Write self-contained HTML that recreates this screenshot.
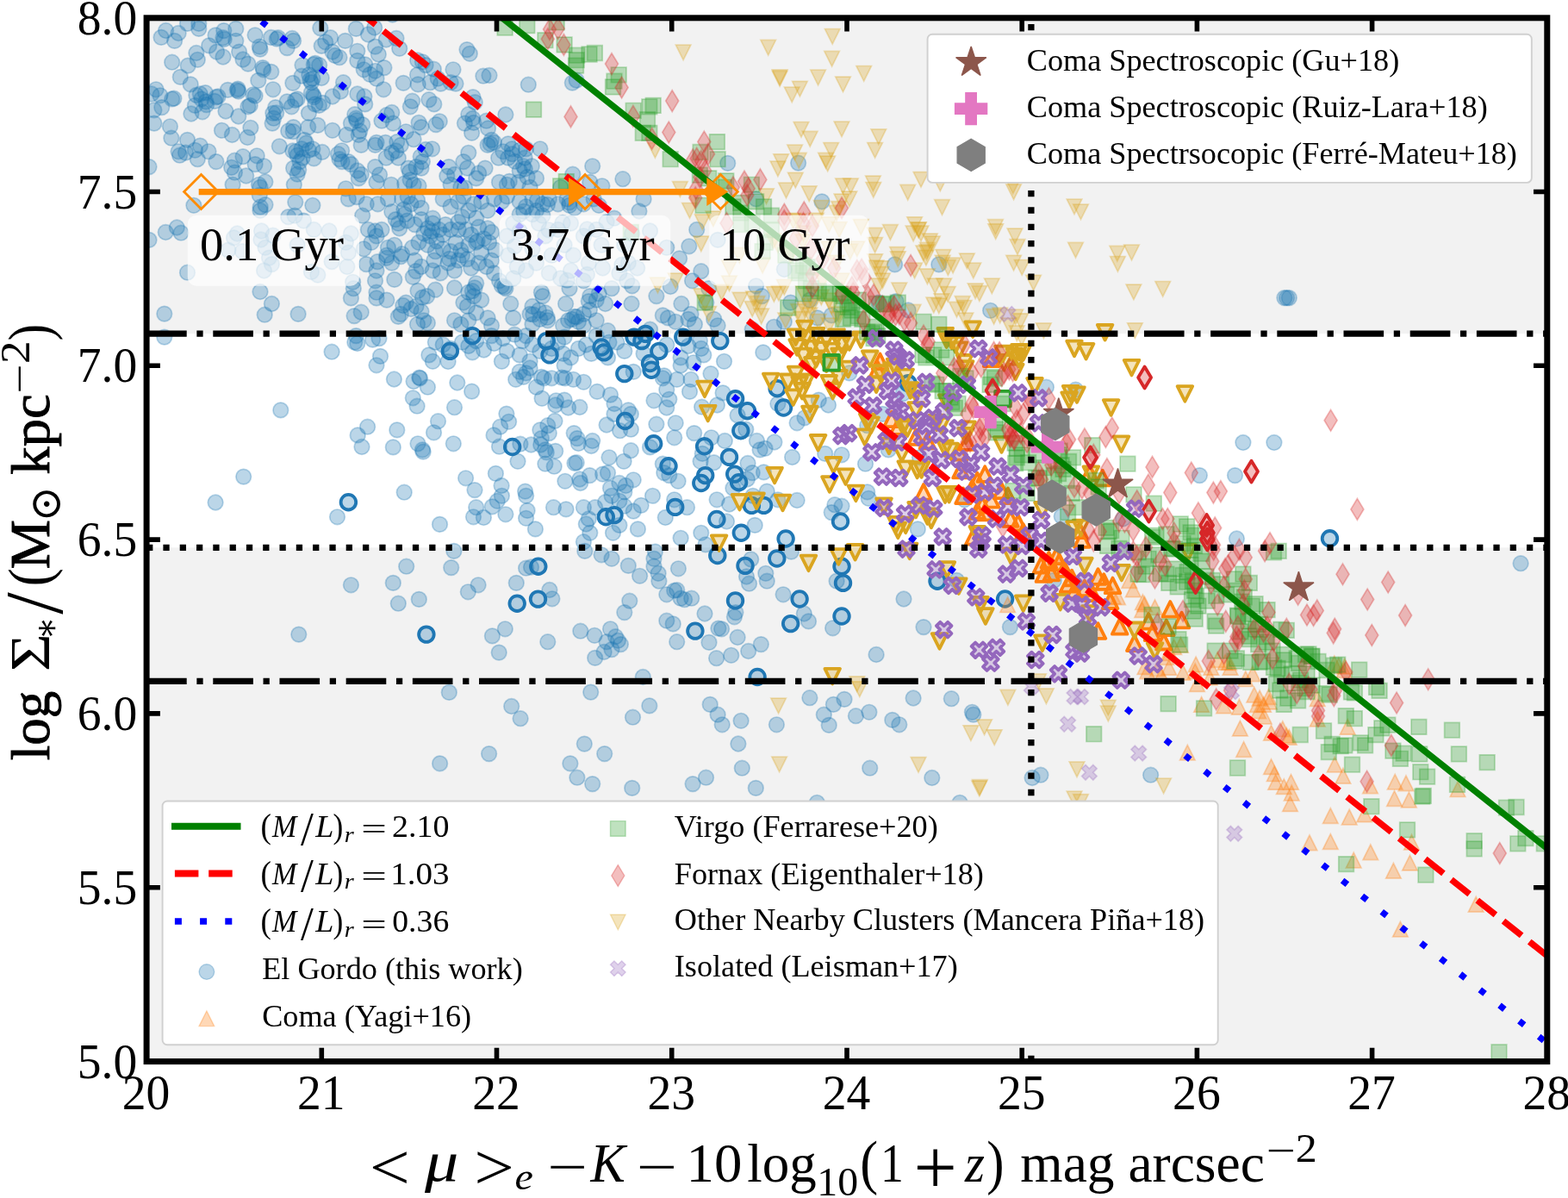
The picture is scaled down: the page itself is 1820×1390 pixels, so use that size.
<!DOCTYPE html>
<html lang="en">
<head>
<meta charset="utf-8">
<title>Stellar surface density vs surface brightness</title>
<style>html,body{margin:0;padding:0;background:#fff}body{width:1820px;height:1390px;overflow:hidden}svg text{white-space:pre}</style>
</head>
<body>
<svg width="1820" height="1390" viewBox="0 0 1820 1390" style="display:block;font-family:'Liberation Serif','DejaVu Serif',serif">
<rect width="1820" height="1390" fill="#fff"/>
<defs><clipPath id="ax"><rect x="170.1" y="20.8" width="1625.7" height="1210.8"/></clipPath></defs>
<g clip-path="url(#ax)">
<rect x="170.1" y="20.8" width="1625.7" height="366.4" fill="#f2f2f2"/>
<rect x="170.1" y="635.4" width="1625.7" height="596.1" fill="#f2f2f2"/>
<g fill="#1f77b4" fill-opacity="0.3" stroke="#1f77b4" stroke-opacity="0.3" stroke-width="1.7">
<circle cx="187.1" cy="43.4" r="8.8"/>
<circle cx="202.6" cy="47.4" r="8.8"/>
<circle cx="207.1" cy="38.5" r="8.8"/>
<circle cx="199.7" cy="72.2" r="8.8"/>
<circle cx="209.3" cy="89.4" r="8.8"/>
<circle cx="181.1" cy="103.8" r="8.8"/>
<circle cx="175.9" cy="109.0" r="8.8"/>
<circle cx="201.9" cy="114.2" r="8.8"/>
<circle cx="199.7" cy="114.9" r="8.8"/>
<circle cx="187.8" cy="124.6" r="8.8"/>
<circle cx="178.9" cy="143.1" r="8.8"/>
<circle cx="197.4" cy="146.8" r="8.8"/>
<circle cx="198.9" cy="160.2" r="8.8"/>
<circle cx="207.1" cy="175.8" r="8.8"/>
<circle cx="208.6" cy="180.2" r="8.8"/>
<circle cx="173.0" cy="193.6" r="8.8"/>
<circle cx="217.5" cy="27.4" r="8.8"/>
<circle cx="230.8" cy="27.4" r="8.8"/>
<circle cx="230.8" cy="33.4" r="8.8"/>
<circle cx="227.9" cy="61.5" r="8.8"/>
<circle cx="218.2" cy="76.1" r="8.8"/>
<circle cx="221.2" cy="97.9" r="8.8"/>
<circle cx="242.7" cy="52.9" r="8.8"/>
<circle cx="251.6" cy="60.1" r="8.8"/>
<circle cx="259.0" cy="66.0" r="8.8"/>
<circle cx="227.9" cy="110.5" r="8.8"/>
<circle cx="233.8" cy="114.9" r="8.8"/>
<circle cx="232.3" cy="109.0" r="8.8"/>
<circle cx="239.0" cy="117.9" r="8.8"/>
<circle cx="239.7" cy="121.6" r="8.8"/>
<circle cx="250.9" cy="112.7" r="8.8"/>
<circle cx="253.1" cy="112.0" r="8.8"/>
<circle cx="221.9" cy="132.0" r="8.8"/>
<circle cx="226.4" cy="122.4" r="8.8"/>
<circle cx="217.5" cy="162.4" r="8.8"/>
<circle cx="232.3" cy="169.1" r="8.8"/>
<circle cx="226.4" cy="174.3" r="8.8"/>
<circle cx="229.3" cy="184.7" r="8.8"/>
<circle cx="242.0" cy="175.8" r="8.8"/>
<circle cx="250.9" cy="187.6" r="8.8"/>
<circle cx="257.5" cy="151.3" r="8.8"/>
<circle cx="259.8" cy="35.6" r="8.8"/>
<circle cx="273.8" cy="33.4" r="8.8"/>
<circle cx="259.0" cy="43.7" r="8.8"/>
<circle cx="273.8" cy="47.4" r="8.8"/>
<circle cx="277.6" cy="60.1" r="8.8"/>
<circle cx="282.0" cy="69.0" r="8.8"/>
<circle cx="287.9" cy="74.1" r="8.8"/>
<circle cx="296.1" cy="40.8" r="8.8"/>
<circle cx="301.3" cy="54.1" r="8.8"/>
<circle cx="302.0" cy="57.1" r="8.8"/>
<circle cx="305.0" cy="78.6" r="8.8"/>
<circle cx="305.7" cy="80.8" r="8.8"/>
<circle cx="299.8" cy="93.4" r="8.8"/>
<circle cx="276.1" cy="103.1" r="8.8"/>
<circle cx="276.8" cy="106.0" r="8.8"/>
<circle cx="275.3" cy="104.6" r="8.8"/>
<circle cx="293.9" cy="109.8" r="8.8"/>
<circle cx="296.1" cy="111.2" r="8.8"/>
<circle cx="287.9" cy="123.8" r="8.8"/>
<circle cx="290.2" cy="122.4" r="8.8"/>
<circle cx="262.0" cy="129.0" r="8.8"/>
<circle cx="276.8" cy="135.0" r="8.8"/>
<circle cx="269.4" cy="156.5" r="8.8"/>
<circle cx="287.2" cy="159.5" r="8.8"/>
<circle cx="290.9" cy="148.3" r="8.8"/>
<circle cx="272.4" cy="186.2" r="8.8"/>
<circle cx="282.0" cy="181.7" r="8.8"/>
<circle cx="296.1" cy="190.6" r="8.8"/>
<circle cx="306.5" cy="192.8" r="8.8"/>
<circle cx="268.7" cy="194.3" r="8.8"/>
<circle cx="272.4" cy="200.2" r="8.8"/>
<circle cx="285.7" cy="204.0" r="8.8"/>
<circle cx="270.1" cy="214.3" r="8.8"/>
<circle cx="300.5" cy="214.3" r="8.8"/>
<circle cx="302.0" cy="217.3" r="8.8"/>
<circle cx="322.8" cy="43.7" r="8.8"/>
<circle cx="321.3" cy="45.2" r="8.8"/>
<circle cx="339.1" cy="44.5" r="8.8"/>
<circle cx="340.6" cy="47.4" r="8.8"/>
<circle cx="333.2" cy="55.6" r="8.8"/>
<circle cx="316.9" cy="103.8" r="8.8"/>
<circle cx="339.9" cy="96.4" r="8.8"/>
<circle cx="319.8" cy="124.6" r="8.8"/>
<circle cx="333.2" cy="117.9" r="8.8"/>
<circle cx="338.4" cy="123.8" r="8.8"/>
<circle cx="342.8" cy="116.4" r="8.8"/>
<circle cx="345.1" cy="114.9" r="8.8"/>
<circle cx="316.9" cy="131.3" r="8.8"/>
<circle cx="316.1" cy="143.1" r="8.8"/>
<circle cx="317.6" cy="137.2" r="8.8"/>
<circle cx="340.6" cy="147.6" r="8.8"/>
<circle cx="334.7" cy="152.0" r="8.8"/>
<circle cx="324.3" cy="169.8" r="8.8"/>
<circle cx="343.6" cy="175.8" r="8.8"/>
<circle cx="345.1" cy="180.2" r="8.8"/>
<circle cx="340.6" cy="195.1" r="8.8"/>
<circle cx="348.0" cy="187.6" r="8.8"/>
<circle cx="341.3" cy="214.3" r="8.8"/>
<circle cx="371.8" cy="32.6" r="8.8"/>
<circle cx="373.2" cy="53.4" r="8.8"/>
<circle cx="383.6" cy="43.7" r="8.8"/>
<circle cx="385.9" cy="60.1" r="8.8"/>
<circle cx="388.8" cy="64.5" r="8.8"/>
<circle cx="351.0" cy="75.6" r="8.8"/>
<circle cx="350.2" cy="88.2" r="8.8"/>
<circle cx="365.8" cy="73.4" r="8.8"/>
<circle cx="364.3" cy="74.9" r="8.8"/>
<circle cx="359.9" cy="92.7" r="8.8"/>
<circle cx="361.4" cy="95.7" r="8.8"/>
<circle cx="362.9" cy="91.2" r="8.8"/>
<circle cx="373.2" cy="90.5" r="8.8"/>
<circle cx="363.6" cy="110.5" r="8.8"/>
<circle cx="364.3" cy="112.7" r="8.8"/>
<circle cx="361.4" cy="107.5" r="8.8"/>
<circle cx="374.7" cy="119.4" r="8.8"/>
<circle cx="370.3" cy="122.4" r="8.8"/>
<circle cx="365.8" cy="120.9" r="8.8"/>
<circle cx="358.4" cy="131.3" r="8.8"/>
<circle cx="357.7" cy="147.6" r="8.8"/>
<circle cx="368.8" cy="145.4" r="8.8"/>
<circle cx="353.2" cy="162.4" r="8.8"/>
<circle cx="355.4" cy="166.1" r="8.8"/>
<circle cx="362.9" cy="172.8" r="8.8"/>
<circle cx="358.4" cy="174.3" r="8.8"/>
<circle cx="374.0" cy="176.5" r="8.8"/>
<circle cx="364.3" cy="183.9" r="8.8"/>
<circle cx="351.0" cy="183.2" r="8.8"/>
<circle cx="385.9" cy="151.3" r="8.8"/>
<circle cx="385.9" cy="112.0" r="8.8"/>
<circle cx="392.5" cy="178.7" r="8.8"/>
<circle cx="394.0" cy="184.7" r="8.8"/>
<circle cx="397.0" cy="187.6" r="8.8"/>
<circle cx="413.3" cy="33.4" r="8.8"/>
<circle cx="427.4" cy="40.0" r="8.8"/>
<circle cx="400.7" cy="47.4" r="8.8"/>
<circle cx="414.8" cy="59.3" r="8.8"/>
<circle cx="435.5" cy="54.1" r="8.8"/>
<circle cx="398.5" cy="95.7" r="8.8"/>
<circle cx="395.5" cy="106.0" r="8.8"/>
<circle cx="414.8" cy="70.4" r="8.8"/>
<circle cx="423.7" cy="74.9" r="8.8"/>
<circle cx="422.2" cy="80.8" r="8.8"/>
<circle cx="435.5" cy="82.3" r="8.8"/>
<circle cx="437.0" cy="91.2" r="8.8"/>
<circle cx="414.8" cy="109.0" r="8.8"/>
<circle cx="422.9" cy="112.0" r="8.8"/>
<circle cx="423.7" cy="120.9" r="8.8"/>
<circle cx="411.8" cy="132.7" r="8.8"/>
<circle cx="413.3" cy="137.2" r="8.8"/>
<circle cx="407.4" cy="143.1" r="8.8"/>
<circle cx="420.7" cy="144.6" r="8.8"/>
<circle cx="402.2" cy="156.5" r="8.8"/>
<circle cx="416.3" cy="156.5" r="8.8"/>
<circle cx="417.7" cy="152.0" r="8.8"/>
<circle cx="419.2" cy="168.4" r="8.8"/>
<circle cx="435.5" cy="168.4" r="8.8"/>
<circle cx="437.0" cy="165.4" r="8.8"/>
<circle cx="404.4" cy="187.6" r="8.8"/>
<circle cx="407.4" cy="190.6" r="8.8"/>
<circle cx="414.8" cy="198.0" r="8.8"/>
<circle cx="419.2" cy="202.5" r="8.8"/>
<circle cx="416.3" cy="206.9" r="8.8"/>
<circle cx="435.5" cy="193.6" r="8.8"/>
<circle cx="437.0" cy="211.4" r="8.8"/>
<circle cx="401.4" cy="218.8" r="8.8"/>
<circle cx="455.6" cy="17.0" r="8.8"/>
<circle cx="460.0" cy="44.5" r="8.8"/>
<circle cx="448.2" cy="46.0" r="8.8"/>
<circle cx="463.7" cy="56.3" r="8.8"/>
<circle cx="439.3" cy="63.0" r="8.8"/>
<circle cx="445.9" cy="78.6" r="8.8"/>
<circle cx="468.2" cy="96.4" r="8.8"/>
<circle cx="445.2" cy="103.8" r="8.8"/>
<circle cx="484.5" cy="86.8" r="8.8"/>
<circle cx="485.2" cy="97.9" r="8.8"/>
<circle cx="490.4" cy="71.9" r="8.8"/>
<circle cx="494.1" cy="75.6" r="8.8"/>
<circle cx="476.3" cy="123.8" r="8.8"/>
<circle cx="478.6" cy="117.2" r="8.8"/>
<circle cx="454.8" cy="130.5" r="8.8"/>
<circle cx="448.9" cy="133.5" r="8.8"/>
<circle cx="456.3" cy="143.1" r="8.8"/>
<circle cx="443.0" cy="140.2" r="8.8"/>
<circle cx="471.2" cy="152.8" r="8.8"/>
<circle cx="447.4" cy="165.4" r="8.8"/>
<circle cx="460.8" cy="164.6" r="8.8"/>
<circle cx="465.2" cy="168.4" r="8.8"/>
<circle cx="454.8" cy="177.3" r="8.8"/>
<circle cx="448.2" cy="183.2" r="8.8"/>
<circle cx="462.3" cy="183.2" r="8.8"/>
<circle cx="474.1" cy="195.1" r="8.8"/>
<circle cx="480.1" cy="161.7" r="8.8"/>
<circle cx="489.0" cy="147.6" r="8.8"/>
<circle cx="506.0" cy="144.6" r="8.8"/>
<circle cx="497.9" cy="115.7" r="8.8"/>
<circle cx="503.8" cy="120.9" r="8.8"/>
<circle cx="499.3" cy="95.7" r="8.8"/>
<circle cx="508.2" cy="91.2" r="8.8"/>
<circle cx="454.1" cy="214.3" r="8.8"/>
<circle cx="469.7" cy="212.9" r="8.8"/>
<circle cx="480.1" cy="214.3" r="8.8"/>
<circle cx="486.0" cy="215.8" r="8.8"/>
<circle cx="526.0" cy="80.8" r="8.8"/>
<circle cx="529.0" cy="97.1" r="8.8"/>
<circle cx="523.1" cy="95.7" r="8.8"/>
<circle cx="545.3" cy="62.3" r="8.8"/>
<circle cx="560.9" cy="88.2" r="8.8"/>
<circle cx="549.0" cy="112.7" r="8.8"/>
<circle cx="551.3" cy="118.7" r="8.8"/>
<circle cx="543.8" cy="132.7" r="8.8"/>
<circle cx="539.4" cy="143.1" r="8.8"/>
<circle cx="549.8" cy="142.4" r="8.8"/>
<circle cx="564.6" cy="140.2" r="8.8"/>
<circle cx="547.6" cy="154.3" r="8.8"/>
<circle cx="501.6" cy="172.8" r="8.8"/>
<circle cx="494.1" cy="173.5" r="8.8"/>
<circle cx="488.2" cy="181.7" r="8.8"/>
<circle cx="490.4" cy="187.6" r="8.8"/>
<circle cx="483.0" cy="193.6" r="8.8"/>
<circle cx="475.6" cy="199.5" r="8.8"/>
<circle cx="489.0" cy="195.1" r="8.8"/>
<circle cx="520.9" cy="193.6" r="8.8"/>
<circle cx="527.5" cy="202.5" r="8.8"/>
<circle cx="537.9" cy="187.6" r="8.8"/>
<circle cx="543.8" cy="177.3" r="8.8"/>
<circle cx="542.4" cy="195.1" r="8.8"/>
<circle cx="523.1" cy="214.3" r="8.8"/>
<circle cx="534.9" cy="217.3" r="8.8"/>
<circle cx="555.7" cy="201.0" r="8.8"/>
<circle cx="563.1" cy="195.1" r="8.8"/>
<circle cx="552.7" cy="206.9" r="8.8"/>
<circle cx="586.9" cy="133.0" r="8.8"/>
<circle cx="570.5" cy="162.4" r="8.8"/>
<circle cx="566.1" cy="168.4" r="8.8"/>
<circle cx="569.1" cy="166.9" r="8.8"/>
<circle cx="573.5" cy="165.4" r="8.8"/>
<circle cx="589.8" cy="166.9" r="8.8"/>
<circle cx="583.9" cy="175.8" r="8.8"/>
<circle cx="594.3" cy="172.8" r="8.8"/>
<circle cx="578.7" cy="183.2" r="8.8"/>
<circle cx="589.8" cy="183.2" r="8.8"/>
<circle cx="603.2" cy="174.3" r="8.8"/>
<circle cx="610.6" cy="172.8" r="8.8"/>
<circle cx="609.1" cy="183.2" r="8.8"/>
<circle cx="626.9" cy="172.8" r="8.8"/>
<circle cx="617.3" cy="192.8" r="8.8"/>
<circle cx="603.2" cy="198.0" r="8.8"/>
<circle cx="612.1" cy="205.4" r="8.8"/>
<circle cx="622.5" cy="206.9" r="8.8"/>
<circle cx="579.5" cy="211.4" r="8.8"/>
<circle cx="588.4" cy="214.3" r="8.8"/>
<circle cx="601.7" cy="211.4" r="8.8"/>
<circle cx="615.1" cy="217.3" r="8.8"/>
<circle cx="613.3" cy="98.2" r="8.8"/>
<circle cx="664.3" cy="96.1" r="8.8"/>
<circle cx="664.8" cy="202.2" r="8.8"/>
<circle cx="687.7" cy="192.8" r="8.8"/>
<circle cx="684.8" cy="211.4" r="8.8"/>
<circle cx="698.9" cy="215.8" r="8.8"/>
<circle cx="650.7" cy="217.3" r="8.8"/>
<circle cx="722.9" cy="207.7" r="8.8"/>
<circle cx="844.7" cy="189.4" r="8.8"/>
<circle cx="926.6" cy="189.1" r="8.8"/>
<circle cx="224.9" cy="238.3" r="8.8"/>
<circle cx="301.3" cy="226.5" r="8.8"/>
<circle cx="308.0" cy="237.6" r="8.8"/>
<circle cx="302.0" cy="244.3" r="8.8"/>
<circle cx="342.8" cy="234.6" r="8.8"/>
<circle cx="362.9" cy="238.3" r="8.8"/>
<circle cx="404.4" cy="230.9" r="8.8"/>
<circle cx="420.7" cy="250.2" r="8.8"/>
<circle cx="425.2" cy="236.8" r="8.8"/>
<circle cx="438.5" cy="236.8" r="8.8"/>
<circle cx="334.7" cy="251.7" r="8.8"/>
<circle cx="342.1" cy="250.2" r="8.8"/>
<circle cx="352.5" cy="256.1" r="8.8"/>
<circle cx="192.3" cy="269.5" r="8.8"/>
<circle cx="210.1" cy="270.2" r="8.8"/>
<circle cx="173.0" cy="278.4" r="8.8"/>
<circle cx="217.5" cy="316.2" r="8.8"/>
<circle cx="275.3" cy="271.0" r="8.8"/>
<circle cx="303.5" cy="268.0" r="8.8"/>
<circle cx="316.9" cy="273.2" r="8.8"/>
<circle cx="364.3" cy="266.5" r="8.8"/>
<circle cx="382.1" cy="268.0" r="8.8"/>
<circle cx="407.4" cy="271.0" r="8.8"/>
<circle cx="435.5" cy="268.0" r="8.8"/>
<circle cx="437.0" cy="273.9" r="8.8"/>
<circle cx="422.2" cy="288.8" r="8.8"/>
<circle cx="431.1" cy="281.3" r="8.8"/>
<circle cx="264.9" cy="290.2" r="8.8"/>
<circle cx="281.3" cy="291.7" r="8.8"/>
<circle cx="308.0" cy="287.3" r="8.8"/>
<circle cx="312.4" cy="299.1" r="8.8"/>
<circle cx="315.4" cy="306.6" r="8.8"/>
<circle cx="306.5" cy="314.0" r="8.8"/>
<circle cx="345.1" cy="284.3" r="8.8"/>
<circle cx="401.4" cy="281.3" r="8.8"/>
<circle cx="404.4" cy="293.2" r="8.8"/>
<circle cx="385.1" cy="303.6" r="8.8"/>
<circle cx="402.9" cy="309.5" r="8.8"/>
<circle cx="361.4" cy="315.5" r="8.8"/>
<circle cx="425.2" cy="306.6" r="8.8"/>
<circle cx="437.0" cy="314.0" r="8.8"/>
<circle cx="435.5" cy="325.8" r="8.8"/>
<circle cx="302.0" cy="338.5" r="8.8"/>
<circle cx="315.4" cy="352.5" r="8.8"/>
<circle cx="307.2" cy="365.2" r="8.8"/>
<circle cx="346.1" cy="364.4" r="8.8"/>
<circle cx="190.8" cy="364.1" r="8.8"/>
<circle cx="409.6" cy="327.3" r="8.8"/>
<circle cx="410.3" cy="334.7" r="8.8"/>
<circle cx="407.4" cy="345.9" r="8.8"/>
<circle cx="419.2" cy="362.2" r="8.8"/>
<circle cx="411.1" cy="366.6" r="8.8"/>
<circle cx="437.0" cy="339.2" r="8.8"/>
<circle cx="190.8" cy="391.1" r="8.8"/>
<circle cx="413.3" cy="389.6" r="8.8"/>
<circle cx="411.8" cy="397.1" r="8.8"/>
<circle cx="414.8" cy="398.5" r="8.8"/>
<circle cx="432.6" cy="394.1" r="8.8"/>
<circle cx="385.1" cy="408.2" r="8.8"/>
<circle cx="437.0" cy="423.8" r="8.8"/>
<circle cx="450.4" cy="230.9" r="8.8"/>
<circle cx="466.7" cy="230.9" r="8.8"/>
<circle cx="477.1" cy="236.8" r="8.8"/>
<circle cx="484.5" cy="232.4" r="8.8"/>
<circle cx="489.0" cy="241.3" r="8.8"/>
<circle cx="469.7" cy="248.7" r="8.8"/>
<circle cx="459.3" cy="254.6" r="8.8"/>
<circle cx="454.8" cy="245.7" r="8.8"/>
<circle cx="502.3" cy="253.2" r="8.8"/>
<circle cx="514.2" cy="230.9" r="8.8"/>
<circle cx="523.1" cy="239.8" r="8.8"/>
<circle cx="532.0" cy="233.9" r="8.8"/>
<circle cx="537.9" cy="227.9" r="8.8"/>
<circle cx="543.8" cy="244.3" r="8.8"/>
<circle cx="549.8" cy="236.8" r="8.8"/>
<circle cx="558.7" cy="233.9" r="8.8"/>
<circle cx="566.1" cy="244.3" r="8.8"/>
<circle cx="573.5" cy="230.9" r="8.8"/>
<circle cx="582.4" cy="233.9" r="8.8"/>
<circle cx="588.4" cy="227.9" r="8.8"/>
<circle cx="603.2" cy="233.9" r="8.8"/>
<circle cx="610.6" cy="239.8" r="8.8"/>
<circle cx="618.0" cy="230.9" r="8.8"/>
<circle cx="622.5" cy="244.3" r="8.8"/>
<circle cx="629.9" cy="236.8" r="8.8"/>
<circle cx="637.3" cy="230.9" r="8.8"/>
<circle cx="647.7" cy="236.8" r="8.8"/>
<circle cx="658.1" cy="230.9" r="8.8"/>
<circle cx="667.0" cy="241.3" r="8.8"/>
<circle cx="677.4" cy="236.8" r="8.8"/>
<circle cx="689.2" cy="230.9" r="8.8"/>
<circle cx="695.2" cy="238.3" r="8.8"/>
<circle cx="618.0" cy="248.7" r="8.8"/>
<circle cx="629.9" cy="250.2" r="8.8"/>
<circle cx="603.2" cy="248.7" r="8.8"/>
<circle cx="536.4" cy="251.7" r="8.8"/>
<circle cx="552.7" cy="253.2" r="8.8"/>
<circle cx="443.0" cy="266.5" r="8.8"/>
<circle cx="462.3" cy="259.1" r="8.8"/>
<circle cx="463.7" cy="265.0" r="8.8"/>
<circle cx="472.6" cy="256.1" r="8.8"/>
<circle cx="481.5" cy="260.6" r="8.8"/>
<circle cx="489.0" cy="254.6" r="8.8"/>
<circle cx="496.4" cy="265.0" r="8.8"/>
<circle cx="502.3" cy="259.1" r="8.8"/>
<circle cx="509.7" cy="266.5" r="8.8"/>
<circle cx="491.9" cy="271.0" r="8.8"/>
<circle cx="499.3" cy="273.9" r="8.8"/>
<circle cx="506.8" cy="279.9" r="8.8"/>
<circle cx="514.2" cy="272.4" r="8.8"/>
<circle cx="517.1" cy="260.6" r="8.8"/>
<circle cx="523.1" cy="266.5" r="8.8"/>
<circle cx="532.0" cy="257.6" r="8.8"/>
<circle cx="540.9" cy="266.5" r="8.8"/>
<circle cx="546.8" cy="272.4" r="8.8"/>
<circle cx="555.7" cy="263.5" r="8.8"/>
<circle cx="566.1" cy="265.0" r="8.8"/>
<circle cx="570.5" cy="269.5" r="8.8"/>
<circle cx="561.6" cy="276.9" r="8.8"/>
<circle cx="567.6" cy="281.3" r="8.8"/>
<circle cx="552.7" cy="281.3" r="8.8"/>
<circle cx="543.8" cy="284.3" r="8.8"/>
<circle cx="534.9" cy="290.2" r="8.8"/>
<circle cx="529.0" cy="281.3" r="8.8"/>
<circle cx="536.4" cy="296.2" r="8.8"/>
<circle cx="542.4" cy="300.6" r="8.8"/>
<circle cx="532.0" cy="302.1" r="8.8"/>
<circle cx="523.1" cy="291.7" r="8.8"/>
<circle cx="514.2" cy="288.8" r="8.8"/>
<circle cx="505.3" cy="291.7" r="8.8"/>
<circle cx="496.4" cy="284.3" r="8.8"/>
<circle cx="486.0" cy="281.3" r="8.8"/>
<circle cx="478.6" cy="287.3" r="8.8"/>
<circle cx="466.7" cy="294.7" r="8.8"/>
<circle cx="465.2" cy="297.7" r="8.8"/>
<circle cx="457.8" cy="284.3" r="8.8"/>
<circle cx="450.4" cy="287.3" r="8.8"/>
<circle cx="448.9" cy="296.2" r="8.8"/>
<circle cx="454.8" cy="305.1" r="8.8"/>
<circle cx="481.5" cy="302.1" r="8.8"/>
<circle cx="489.0" cy="309.5" r="8.8"/>
<circle cx="502.3" cy="314.0" r="8.8"/>
<circle cx="511.2" cy="316.9" r="8.8"/>
<circle cx="503.8" cy="302.1" r="8.8"/>
<circle cx="520.1" cy="305.1" r="8.8"/>
<circle cx="527.5" cy="314.0" r="8.8"/>
<circle cx="546.8" cy="311.0" r="8.8"/>
<circle cx="555.7" cy="305.1" r="8.8"/>
<circle cx="564.6" cy="309.5" r="8.8"/>
<circle cx="570.5" cy="302.1" r="8.8"/>
<circle cx="558.7" cy="293.2" r="8.8"/>
<circle cx="575.0" cy="290.2" r="8.8"/>
<circle cx="573.5" cy="316.9" r="8.8"/>
<circle cx="457.8" cy="324.4" r="8.8"/>
<circle cx="479.3" cy="321.4" r="8.8"/>
<circle cx="588.4" cy="273.9" r="8.8"/>
<circle cx="595.8" cy="259.1" r="8.8"/>
<circle cx="603.2" cy="268.0" r="8.8"/>
<circle cx="597.3" cy="285.8" r="8.8"/>
<circle cx="589.8" cy="296.2" r="8.8"/>
<circle cx="600.2" cy="309.5" r="8.8"/>
<circle cx="595.8" cy="322.9" r="8.8"/>
<circle cx="610.6" cy="314.0" r="8.8"/>
<circle cx="622.5" cy="305.1" r="8.8"/>
<circle cx="637.3" cy="316.9" r="8.8"/>
<circle cx="618.0" cy="288.8" r="8.8"/>
<circle cx="632.9" cy="273.9" r="8.8"/>
<circle cx="647.7" cy="266.5" r="8.8"/>
<circle cx="662.5" cy="259.1" r="8.8"/>
<circle cx="655.1" cy="284.3" r="8.8"/>
<circle cx="665.5" cy="296.2" r="8.8"/>
<circle cx="677.4" cy="273.9" r="8.8"/>
<circle cx="692.2" cy="266.5" r="8.8"/>
<circle cx="698.1" cy="284.3" r="8.8"/>
<circle cx="683.3" cy="305.1" r="8.8"/>
<circle cx="699.6" cy="311.0" r="8.8"/>
<circle cx="704.1" cy="257.6" r="8.8"/>
<circle cx="625.4" cy="259.1" r="8.8"/>
<circle cx="640.3" cy="296.2" r="8.8"/>
<circle cx="650.7" cy="322.9" r="8.8"/>
<circle cx="662.5" cy="314.0" r="8.8"/>
<circle cx="677.4" cy="325.8" r="8.8"/>
<circle cx="527.5" cy="334.0" r="8.8"/>
<circle cx="505.3" cy="336.2" r="8.8"/>
<circle cx="495.6" cy="343.6" r="8.8"/>
<circle cx="490.4" cy="345.1" r="8.8"/>
<circle cx="471.2" cy="351.1" r="8.8"/>
<circle cx="483.0" cy="355.5" r="8.8"/>
<circle cx="477.1" cy="358.5" r="8.8"/>
<circle cx="489.0" cy="361.5" r="8.8"/>
<circle cx="462.3" cy="367.4" r="8.8"/>
<circle cx="465.2" cy="364.4" r="8.8"/>
<circle cx="448.9" cy="348.1" r="8.8"/>
<circle cx="491.9" cy="371.8" r="8.8"/>
<circle cx="484.5" cy="376.3" r="8.8"/>
<circle cx="496.4" cy="374.8" r="8.8"/>
<circle cx="552.7" cy="328.8" r="8.8"/>
<circle cx="543.8" cy="339.2" r="8.8"/>
<circle cx="549.8" cy="343.6" r="8.8"/>
<circle cx="558.7" cy="348.1" r="8.8"/>
<circle cx="548.3" cy="337.7" r="8.8"/>
<circle cx="552.7" cy="362.9" r="8.8"/>
<circle cx="542.4" cy="355.5" r="8.8"/>
<circle cx="566.1" cy="368.9" r="8.8"/>
<circle cx="527.5" cy="371.8" r="8.8"/>
<circle cx="534.9" cy="376.3" r="8.8"/>
<circle cx="543.8" cy="371.8" r="8.8"/>
<circle cx="570.5" cy="377.8" r="8.8"/>
<circle cx="582.4" cy="331.8" r="8.8"/>
<circle cx="586.9" cy="334.7" r="8.8"/>
<circle cx="579.5" cy="325.8" r="8.8"/>
<circle cx="592.8" cy="352.5" r="8.8"/>
<circle cx="595.8" cy="368.9" r="8.8"/>
<circle cx="628.4" cy="339.2" r="8.8"/>
<circle cx="629.9" cy="343.6" r="8.8"/>
<circle cx="618.0" cy="355.5" r="8.8"/>
<circle cx="615.1" cy="364.4" r="8.8"/>
<circle cx="625.4" cy="360.0" r="8.8"/>
<circle cx="632.9" cy="362.9" r="8.8"/>
<circle cx="635.8" cy="371.8" r="8.8"/>
<circle cx="626.9" cy="370.4" r="8.8"/>
<circle cx="618.0" cy="376.3" r="8.8"/>
<circle cx="661.0" cy="334.7" r="8.8"/>
<circle cx="656.6" cy="352.5" r="8.8"/>
<circle cx="664.0" cy="370.4" r="8.8"/>
<circle cx="659.6" cy="371.8" r="8.8"/>
<circle cx="667.0" cy="367.4" r="8.8"/>
<circle cx="671.4" cy="373.3" r="8.8"/>
<circle cx="677.4" cy="364.4" r="8.8"/>
<circle cx="684.8" cy="343.6" r="8.8"/>
<circle cx="692.2" cy="348.1" r="8.8"/>
<circle cx="683.3" cy="349.6" r="8.8"/>
<circle cx="695.2" cy="340.7" r="8.8"/>
<circle cx="677.4" cy="377.8" r="8.8"/>
<circle cx="692.2" cy="371.8" r="8.8"/>
<circle cx="653.6" cy="377.8" r="8.8"/>
<circle cx="702.6" cy="352.5" r="8.8"/>
<circle cx="705.5" cy="383.7" r="8.8"/>
<circle cx="440.0" cy="392.6" r="8.8"/>
<circle cx="505.3" cy="397.1" r="8.8"/>
<circle cx="514.2" cy="400.0" r="8.8"/>
<circle cx="523.1" cy="404.5" r="8.8"/>
<circle cx="497.9" cy="411.9" r="8.8"/>
<circle cx="536.4" cy="397.1" r="8.8"/>
<circle cx="543.8" cy="401.5" r="8.8"/>
<circle cx="552.7" cy="395.6" r="8.8"/>
<circle cx="561.6" cy="406.0" r="8.8"/>
<circle cx="570.5" cy="389.6" r="8.8"/>
<circle cx="573.5" cy="398.5" r="8.8"/>
<circle cx="583.9" cy="392.6" r="8.8"/>
<circle cx="588.4" cy="407.4" r="8.8"/>
<circle cx="597.3" cy="388.2" r="8.8"/>
<circle cx="606.2" cy="395.6" r="8.8"/>
<circle cx="610.6" cy="389.6" r="8.8"/>
<circle cx="618.0" cy="400.0" r="8.8"/>
<circle cx="626.9" cy="407.4" r="8.8"/>
<circle cx="640.3" cy="404.5" r="8.8"/>
<circle cx="647.7" cy="397.1" r="8.8"/>
<circle cx="653.6" cy="410.4" r="8.8"/>
<circle cx="662.5" cy="414.9" r="8.8"/>
<circle cx="671.4" cy="404.5" r="8.8"/>
<circle cx="680.3" cy="400.0" r="8.8"/>
<circle cx="686.3" cy="410.4" r="8.8"/>
<circle cx="707.0" cy="397.1" r="8.8"/>
<circle cx="582.4" cy="419.3" r="8.8"/>
<circle cx="615.1" cy="419.3" r="8.8"/>
<circle cx="603.2" cy="411.9" r="8.8"/>
<circle cx="502.3" cy="419.3" r="8.8"/>
<circle cx="441.5" cy="413.4" r="8.8"/>
<circle cx="548.3" cy="408.9" r="8.8"/>
<circle cx="655.1" cy="391.1" r="8.8"/>
<circle cx="692.2" cy="389.6" r="8.8"/>
<circle cx="705.5" cy="414.9" r="8.8"/>
<circle cx="747.1" cy="230.9" r="8.8"/>
<circle cx="741.9" cy="245.0" r="8.8"/>
<circle cx="713.0" cy="253.2" r="8.8"/>
<circle cx="808.7" cy="266.5" r="8.8"/>
<circle cx="799.8" cy="285.8" r="8.8"/>
<circle cx="788.6" cy="299.9" r="8.8"/>
<circle cx="813.8" cy="314.7" r="8.8"/>
<circle cx="803.5" cy="325.8" r="8.8"/>
<circle cx="822.7" cy="334.7" r="8.8"/>
<circle cx="778.2" cy="332.5" r="8.8"/>
<circle cx="761.9" cy="343.6" r="8.8"/>
<circle cx="733.0" cy="352.5" r="8.8"/>
<circle cx="733.7" cy="331.8" r="8.8"/>
<circle cx="710.0" cy="334.7" r="8.8"/>
<circle cx="790.9" cy="352.5" r="8.8"/>
<circle cx="819.8" cy="351.1" r="8.8"/>
<circle cx="769.3" cy="365.9" r="8.8"/>
<circle cx="775.3" cy="368.9" r="8.8"/>
<circle cx="784.2" cy="373.3" r="8.8"/>
<circle cx="799.0" cy="370.4" r="8.8"/>
<circle cx="802.0" cy="364.4" r="8.8"/>
<circle cx="806.4" cy="376.3" r="8.8"/>
<circle cx="828.7" cy="370.4" r="8.8"/>
<circle cx="833.1" cy="377.8" r="8.8"/>
<circle cx="754.5" cy="382.2" r="8.8"/>
<circle cx="877.6" cy="331.8" r="8.8"/>
<circle cx="884.3" cy="343.6" r="8.8"/>
<circle cx="917.7" cy="351.1" r="8.8"/>
<circle cx="939.9" cy="348.1" r="8.8"/>
<circle cx="965.2" cy="365.9" r="8.8"/>
<circle cx="948.8" cy="368.9" r="8.8"/>
<circle cx="910.3" cy="373.3" r="8.8"/>
<circle cx="898.4" cy="379.3" r="8.8"/>
<circle cx="873.2" cy="382.2" r="8.8"/>
<circle cx="885.8" cy="408.9" r="8.8"/>
<circle cx="954.0" cy="233.9" r="8.8"/>
<circle cx="877.6" cy="230.9" r="8.8"/>
<circle cx="715.9" cy="397.1" r="8.8"/>
<circle cx="724.8" cy="407.4" r="8.8"/>
<circle cx="747.1" cy="410.4" r="8.8"/>
<circle cx="773.8" cy="400.0" r="8.8"/>
<circle cx="790.1" cy="414.9" r="8.8"/>
<circle cx="799.0" cy="401.5" r="8.8"/>
<circle cx="813.8" cy="404.5" r="8.8"/>
<circle cx="816.8" cy="411.9" r="8.8"/>
<circle cx="812.4" cy="395.6" r="8.8"/>
<circle cx="840.5" cy="419.3" r="8.8"/>
<circle cx="804.9" cy="420.8" r="8.8"/>
<circle cx="754.5" cy="268.0" r="8.8"/>
<circle cx="733.7" cy="271.0" r="8.8"/>
<circle cx="724.8" cy="284.3" r="8.8"/>
<circle cx="773.8" cy="287.3" r="8.8"/>
<circle cx="729.3" cy="305.1" r="8.8"/>
<circle cx="718.9" cy="316.9" r="8.8"/>
<circle cx="739.7" cy="311.0" r="8.8"/>
<circle cx="727.8" cy="325.8" r="8.8"/>
<circle cx="833.1" cy="278.4" r="8.8"/>
<circle cx="910.3" cy="312.5" r="8.8"/>
<circle cx="1038.6" cy="306.9" r="8.8"/>
<circle cx="1089.8" cy="306.9" r="8.8"/>
<circle cx="1040.1" cy="349.6" r="8.8"/>
<circle cx="1054.2" cy="360.0" r="8.8"/>
<circle cx="1149.6" cy="360.3" r="8.8"/>
<circle cx="1020.1" cy="351.1" r="8.8"/>
<circle cx="1490.9" cy="345.6" r="8.8"/>
<circle cx="1493.6" cy="345.6" r="8.8"/>
<circle cx="1496.3" cy="345.6" r="8.8"/>
<circle cx="325.8" cy="475.9" r="8.8"/>
<circle cx="426.6" cy="495.2" r="8.8"/>
<circle cx="415.2" cy="504.9" r="8.8"/>
<circle cx="420.0" cy="518.5" r="8.8"/>
<circle cx="282.7" cy="553.1" r="8.8"/>
<circle cx="250.1" cy="583.0" r="8.8"/>
<circle cx="391.5" cy="599.8" r="8.8"/>
<circle cx="457.4" cy="440.0" r="8.8"/>
<circle cx="480.1" cy="442.5" r="8.8"/>
<circle cx="487.5" cy="438.8" r="8.8"/>
<circle cx="486.7" cy="438.1" r="8.8"/>
<circle cx="496.4" cy="449.2" r="8.8"/>
<circle cx="479.3" cy="461.8" r="8.8"/>
<circle cx="484.1" cy="471.2" r="8.8"/>
<circle cx="530.8" cy="444.0" r="8.8"/>
<circle cx="547.6" cy="454.1" r="8.8"/>
<circle cx="527.5" cy="472.7" r="8.8"/>
<circle cx="508.5" cy="488.7" r="8.8"/>
<circle cx="503.5" cy="501.9" r="8.8"/>
<circle cx="460.8" cy="498.9" r="8.8"/>
<circle cx="456.3" cy="518.9" r="8.8"/>
<circle cx="485.0" cy="514.8" r="8.8"/>
<circle cx="490.4" cy="521.9" r="8.8"/>
<circle cx="491.2" cy="524.1" r="8.8"/>
<circle cx="526.3" cy="514.8" r="8.8"/>
<circle cx="469.2" cy="571.2" r="8.8"/>
<circle cx="510.5" cy="608.4" r="8.8"/>
<circle cx="520.1" cy="419.5" r="8.8"/>
<circle cx="598.7" cy="440.3" r="8.8"/>
<circle cx="603.2" cy="431.4" r="8.8"/>
<circle cx="610.6" cy="432.9" r="8.8"/>
<circle cx="615.1" cy="427.0" r="8.8"/>
<circle cx="607.6" cy="437.4" r="8.8"/>
<circle cx="622.5" cy="449.2" r="8.8"/>
<circle cx="628.4" cy="437.4" r="8.8"/>
<circle cx="631.4" cy="438.8" r="8.8"/>
<circle cx="640.3" cy="438.8" r="8.8"/>
<circle cx="652.1" cy="438.1" r="8.8"/>
<circle cx="655.9" cy="438.8" r="8.8"/>
<circle cx="665.5" cy="440.3" r="8.8"/>
<circle cx="677.4" cy="443.3" r="8.8"/>
<circle cx="693.1" cy="454.4" r="8.8"/>
<circle cx="629.1" cy="462.3" r="8.8"/>
<circle cx="645.5" cy="464.8" r="8.8"/>
<circle cx="644.7" cy="470.0" r="8.8"/>
<circle cx="655.1" cy="464.1" r="8.8"/>
<circle cx="659.6" cy="473.0" r="8.8"/>
<circle cx="672.9" cy="472.5" r="8.8"/>
<circle cx="708.5" cy="458.1" r="8.8"/>
<circle cx="713.0" cy="468.5" r="8.8"/>
<circle cx="655.1" cy="424.0" r="8.8"/>
<circle cx="587.9" cy="480.1" r="8.8"/>
<circle cx="590.6" cy="489.3" r="8.8"/>
<circle cx="580.6" cy="495.2" r="8.8"/>
<circle cx="573.1" cy="504.9" r="8.8"/>
<circle cx="579.5" cy="518.2" r="8.8"/>
<circle cx="603.9" cy="515.2" r="8.8"/>
<circle cx="616.5" cy="516.0" r="8.8"/>
<circle cx="601.0" cy="535.3" r="8.8"/>
<circle cx="644.0" cy="488.5" r="8.8"/>
<circle cx="635.8" cy="493.7" r="8.8"/>
<circle cx="626.9" cy="498.9" r="8.8"/>
<circle cx="637.3" cy="502.6" r="8.8"/>
<circle cx="628.4" cy="508.6" r="8.8"/>
<circle cx="627.7" cy="516.0" r="8.8"/>
<circle cx="632.9" cy="521.9" r="8.8"/>
<circle cx="634.3" cy="524.9" r="8.8"/>
<circle cx="644.7" cy="523.4" r="8.8"/>
<circle cx="632.9" cy="538.2" r="8.8"/>
<circle cx="643.2" cy="541.2" r="8.8"/>
<circle cx="666.2" cy="502.6" r="8.8"/>
<circle cx="669.9" cy="508.6" r="8.8"/>
<circle cx="671.4" cy="514.5" r="8.8"/>
<circle cx="687.7" cy="511.5" r="8.8"/>
<circle cx="686.3" cy="517.5" r="8.8"/>
<circle cx="704.1" cy="493.0" r="8.8"/>
<circle cx="713.0" cy="480.4" r="8.8"/>
<circle cx="667.0" cy="537.5" r="8.8"/>
<circle cx="669.2" cy="536.7" r="8.8"/>
<circle cx="707.0" cy="530.8" r="8.8"/>
<circle cx="575.4" cy="549.4" r="8.8"/>
<circle cx="540.6" cy="554.8" r="8.8"/>
<circle cx="551.0" cy="568.6" r="8.8"/>
<circle cx="582.1" cy="563.5" r="8.8"/>
<circle cx="582.4" cy="575.3" r="8.8"/>
<circle cx="577.2" cy="581.3" r="8.8"/>
<circle cx="571.3" cy="587.9" r="8.8"/>
<circle cx="552.7" cy="588.7" r="8.8"/>
<circle cx="549.5" cy="599.8" r="8.8"/>
<circle cx="561.4" cy="600.5" r="8.8"/>
<circle cx="586.9" cy="596.8" r="8.8"/>
<circle cx="609.6" cy="570.1" r="8.8"/>
<circle cx="610.6" cy="575.3" r="8.8"/>
<circle cx="612.1" cy="592.4" r="8.8"/>
<circle cx="610.6" cy="601.3" r="8.8"/>
<circle cx="621.4" cy="613.9" r="8.8"/>
<circle cx="642.5" cy="588.7" r="8.8"/>
<circle cx="657.0" cy="590.9" r="8.8"/>
<circle cx="655.9" cy="558.3" r="8.8"/>
<circle cx="672.9" cy="556.0" r="8.8"/>
<circle cx="673.7" cy="560.5" r="8.8"/>
<circle cx="684.5" cy="551.6" r="8.8"/>
<circle cx="699.6" cy="550.1" r="8.8"/>
<circle cx="705.5" cy="548.6" r="8.8"/>
<circle cx="677.4" cy="588.7" r="8.8"/>
<circle cx="690.7" cy="588.7" r="8.8"/>
<circle cx="683.3" cy="602.0" r="8.8"/>
<circle cx="680.3" cy="608.0" r="8.8"/>
<circle cx="684.8" cy="618.3" r="8.8"/>
<circle cx="708.5" cy="566.4" r="8.8"/>
<circle cx="710.0" cy="575.3" r="8.8"/>
<circle cx="702.6" cy="582.7" r="8.8"/>
<circle cx="711.5" cy="618.3" r="8.8"/>
<circle cx="677.4" cy="628.7" r="8.8"/>
<circle cx="735.2" cy="431.4" r="8.8"/>
<circle cx="770.8" cy="435.9" r="8.8"/>
<circle cx="769.3" cy="438.8" r="8.8"/>
<circle cx="773.8" cy="452.2" r="8.8"/>
<circle cx="785.7" cy="440.3" r="8.8"/>
<circle cx="802.0" cy="440.3" r="8.8"/>
<circle cx="800.5" cy="454.4" r="8.8"/>
<circle cx="790.1" cy="424.0" r="8.8"/>
<circle cx="825.0" cy="433.6" r="8.8"/>
<circle cx="839.1" cy="455.9" r="8.8"/>
<circle cx="759.0" cy="464.8" r="8.8"/>
<circle cx="776.8" cy="463.3" r="8.8"/>
<circle cx="773.8" cy="473.0" r="8.8"/>
<circle cx="729.3" cy="475.9" r="8.8"/>
<circle cx="732.3" cy="480.4" r="8.8"/>
<circle cx="814.6" cy="472.2" r="8.8"/>
<circle cx="832.4" cy="470.0" r="8.8"/>
<circle cx="761.9" cy="492.2" r="8.8"/>
<circle cx="784.2" cy="490.8" r="8.8"/>
<circle cx="782.7" cy="507.8" r="8.8"/>
<circle cx="719.6" cy="499.7" r="8.8"/>
<circle cx="732.3" cy="498.2" r="8.8"/>
<circle cx="805.7" cy="502.6" r="8.8"/>
<circle cx="825.7" cy="507.8" r="8.8"/>
<circle cx="841.3" cy="511.5" r="8.8"/>
<circle cx="856.1" cy="481.9" r="8.8"/>
<circle cx="865.8" cy="498.2" r="8.8"/>
<circle cx="878.4" cy="511.5" r="8.8"/>
<circle cx="882.1" cy="521.9" r="8.8"/>
<circle cx="888.0" cy="520.4" r="8.8"/>
<circle cx="898.9" cy="513.0" r="8.8"/>
<circle cx="868.0" cy="537.5" r="8.8"/>
<circle cx="919.6" cy="530.5" r="8.8"/>
<circle cx="925.1" cy="490.8" r="8.8"/>
<circle cx="934.0" cy="484.8" r="8.8"/>
<circle cx="950.3" cy="464.1" r="8.8"/>
<circle cx="961.5" cy="470.0" r="8.8"/>
<circle cx="902.9" cy="468.5" r="8.8"/>
<circle cx="957.7" cy="526.4" r="8.8"/>
<circle cx="977.0" cy="527.8" r="8.8"/>
<circle cx="754.5" cy="518.9" r="8.8"/>
<circle cx="732.3" cy="522.7" r="8.8"/>
<circle cx="724.1" cy="535.3" r="8.8"/>
<circle cx="769.3" cy="538.2" r="8.8"/>
<circle cx="770.8" cy="548.6" r="8.8"/>
<circle cx="776.8" cy="551.6" r="8.8"/>
<circle cx="787.1" cy="558.3" r="8.8"/>
<circle cx="815.3" cy="526.4" r="8.8"/>
<circle cx="813.1" cy="535.3" r="8.8"/>
<circle cx="828.7" cy="536.7" r="8.8"/>
<circle cx="873.2" cy="548.6" r="8.8"/>
<circle cx="886.5" cy="547.9" r="8.8"/>
<circle cx="867.3" cy="556.0" r="8.8"/>
<circle cx="850.9" cy="566.4" r="8.8"/>
<circle cx="873.9" cy="575.3" r="8.8"/>
<circle cx="890.2" cy="570.1" r="8.8"/>
<circle cx="902.9" cy="579.8" r="8.8"/>
<circle cx="925.1" cy="580.5" r="8.8"/>
<circle cx="832.1" cy="579.8" r="8.8"/>
<circle cx="846.5" cy="585.0" r="8.8"/>
<circle cx="735.2" cy="556.8" r="8.8"/>
<circle cx="718.9" cy="560.5" r="8.8"/>
<circle cx="726.3" cy="563.5" r="8.8"/>
<circle cx="724.8" cy="570.9" r="8.8"/>
<circle cx="718.9" cy="581.3" r="8.8"/>
<circle cx="724.8" cy="587.2" r="8.8"/>
<circle cx="744.1" cy="586.4" r="8.8"/>
<circle cx="757.5" cy="575.3" r="8.8"/>
<circle cx="735.2" cy="593.1" r="8.8"/>
<circle cx="782.7" cy="579.8" r="8.8"/>
<circle cx="797.5" cy="588.7" r="8.8"/>
<circle cx="772.3" cy="600.5" r="8.8"/>
<circle cx="843.5" cy="605.0" r="8.8"/>
<circle cx="876.2" cy="609.4" r="8.8"/>
<circle cx="813.8" cy="618.3" r="8.8"/>
<circle cx="740.4" cy="613.9" r="8.8"/>
<circle cx="718.9" cy="609.4" r="8.8"/>
<circle cx="790.1" cy="624.3" r="8.8"/>
<circle cx="968.9" cy="585.7" r="8.8"/>
<circle cx="977.0" cy="587.2" r="8.8"/>
<circle cx="965.2" cy="594.6" r="8.8"/>
<circle cx="985.9" cy="432.9" r="8.8"/>
<circle cx="1048.2" cy="456.6" r="8.8"/>
<circle cx="1006.7" cy="493.7" r="8.8"/>
<circle cx="1024.5" cy="480.4" r="8.8"/>
<circle cx="1004.5" cy="538.2" r="8.8"/>
<circle cx="1031.2" cy="521.9" r="8.8"/>
<circle cx="1006.7" cy="570.9" r="8.8"/>
<circle cx="1008.2" cy="578.3" r="8.8"/>
<circle cx="1065.3" cy="613.9" r="8.8"/>
<circle cx="1067.5" cy="530.8" r="8.8"/>
<circle cx="1214.4" cy="449.2" r="8.8"/>
<circle cx="1248.5" cy="452.2" r="8.8"/>
<circle cx="1119.5" cy="579.8" r="8.8"/>
<circle cx="1232.2" cy="599.1" r="8.8"/>
<circle cx="1442.9" cy="513.5" r="8.8"/>
<circle cx="1478.9" cy="513.5" r="8.8"/>
<circle cx="1392.4" cy="551.6" r="8.8"/>
<circle cx="1433.5" cy="551.6" r="8.8"/>
<circle cx="1435.4" cy="625.0" r="8.8"/>
<circle cx="1303.4" cy="602.0" r="8.8"/>
<circle cx="526.9" cy="639.4" r="8.8"/>
<circle cx="471.7" cy="657.2" r="8.8"/>
<circle cx="523.7" cy="658.6" r="8.8"/>
<circle cx="407.4" cy="678.8" r="8.8"/>
<circle cx="456.3" cy="676.4" r="8.8"/>
<circle cx="462.3" cy="700.2" r="8.8"/>
<circle cx="486.3" cy="695.4" r="8.8"/>
<circle cx="555.1" cy="678.8" r="8.8"/>
<circle cx="543.3" cy="686.8" r="8.8"/>
<circle cx="599.3" cy="676.4" r="8.8"/>
<circle cx="610.6" cy="659.2" r="8.8"/>
<circle cx="616.5" cy="658.0" r="8.8"/>
<circle cx="637.9" cy="684.5" r="8.8"/>
<circle cx="640.9" cy="694.8" r="8.8"/>
<circle cx="346.8" cy="736.1" r="8.8"/>
<circle cx="586.3" cy="729.8" r="8.8"/>
<circle cx="571.4" cy="737.9" r="8.8"/>
<circle cx="579.2" cy="757.1" r="8.8"/>
<circle cx="635.8" cy="744.7" r="8.8"/>
<circle cx="673.8" cy="732.2" r="8.8"/>
<circle cx="690.1" cy="737.3" r="8.8"/>
<circle cx="690.7" cy="763.4" r="8.8"/>
<circle cx="701.1" cy="756.5" r="8.8"/>
<circle cx="704.1" cy="744.7" r="8.8"/>
<circle cx="708.5" cy="729.8" r="8.8"/>
<circle cx="678.8" cy="639.4" r="8.8"/>
<circle cx="698.1" cy="643.8" r="8.8"/>
<circle cx="710.0" cy="648.3" r="8.8"/>
<circle cx="521.3" cy="803.4" r="8.8"/>
<circle cx="685.7" cy="803.1" r="8.8"/>
<circle cx="593.7" cy="819.5" r="8.8"/>
<circle cx="604.1" cy="833.7" r="8.8"/>
<circle cx="678.3" cy="863.1" r="8.8"/>
<circle cx="567.6" cy="874.6" r="8.8"/>
<circle cx="510.6" cy="885.9" r="8.8"/>
<circle cx="661.9" cy="885.9" r="8.8"/>
<circle cx="669.9" cy="902.2" r="8.8"/>
<circle cx="687.7" cy="909.6" r="8.8"/>
<circle cx="701.7" cy="874.6" r="8.8"/>
<circle cx="729.3" cy="656.4" r="8.8"/>
<circle cx="742.6" cy="668.3" r="8.8"/>
<circle cx="760.4" cy="640.1" r="8.8"/>
<circle cx="759.0" cy="648.3" r="8.8"/>
<circle cx="759.0" cy="657.2" r="8.8"/>
<circle cx="764.1" cy="665.3" r="8.8"/>
<circle cx="764.9" cy="674.2" r="8.8"/>
<circle cx="787.4" cy="659.8" r="8.8"/>
<circle cx="819.0" cy="631.9" r="8.8"/>
<circle cx="730.8" cy="697.2" r="8.8"/>
<circle cx="724.8" cy="710.6" r="8.8"/>
<circle cx="773.8" cy="689.8" r="8.8"/>
<circle cx="782.7" cy="685.3" r="8.8"/>
<circle cx="785.7" cy="684.6" r="8.8"/>
<circle cx="790.1" cy="694.2" r="8.8"/>
<circle cx="794.6" cy="695.7" r="8.8"/>
<circle cx="802.7" cy="694.2" r="8.8"/>
<circle cx="714.5" cy="738.7" r="8.8"/>
<circle cx="717.4" cy="743.2" r="8.8"/>
<circle cx="720.4" cy="747.6" r="8.8"/>
<circle cx="710.0" cy="753.6" r="8.8"/>
<circle cx="773.8" cy="720.2" r="8.8"/>
<circle cx="781.2" cy="723.9" r="8.8"/>
<circle cx="818.0" cy="712.0" r="8.8"/>
<circle cx="785.7" cy="744.7" r="8.8"/>
<circle cx="823.0" cy="745.4" r="8.8"/>
<circle cx="833.9" cy="729.1" r="8.8"/>
<circle cx="837.6" cy="729.8" r="8.8"/>
<circle cx="853.9" cy="710.6" r="8.8"/>
<circle cx="852.4" cy="715.8" r="8.8"/>
<circle cx="856.1" cy="739.5" r="8.8"/>
<circle cx="868.7" cy="755.5" r="8.8"/>
<circle cx="883.3" cy="747.6" r="8.8"/>
<circle cx="848.7" cy="760.3" r="8.8"/>
<circle cx="831.6" cy="763.7" r="8.8"/>
<circle cx="871.7" cy="649.0" r="8.8"/>
<circle cx="866.5" cy="669.0" r="8.8"/>
<circle cx="869.5" cy="677.2" r="8.8"/>
<circle cx="888.8" cy="665.3" r="8.8"/>
<circle cx="890.2" cy="674.2" r="8.8"/>
<circle cx="918.4" cy="640.1" r="8.8"/>
<circle cx="909.1" cy="689.8" r="8.8"/>
<circle cx="933.3" cy="712.0" r="8.8"/>
<circle cx="938.5" cy="720.9" r="8.8"/>
<circle cx="966.6" cy="728.8" r="8.8"/>
<circle cx="971.1" cy="674.2" r="8.8"/>
<circle cx="746.3" cy="785.5" r="8.8"/>
<circle cx="753.8" cy="818.9" r="8.8"/>
<circle cx="824.2" cy="817.4" r="8.8"/>
<circle cx="833.1" cy="829.2" r="8.8"/>
<circle cx="734.5" cy="832.2" r="8.8"/>
<circle cx="939.9" cy="809.7" r="8.8"/>
<circle cx="967.4" cy="817.4" r="8.8"/>
<circle cx="956.3" cy="829.2" r="8.8"/>
<circle cx="980.0" cy="811.4" r="8.8"/>
<circle cx="1049.0" cy="695.0" r="8.8"/>
<circle cx="1072.0" cy="727.6" r="8.8"/>
<circle cx="1017.1" cy="759.5" r="8.8"/>
<circle cx="1172.4" cy="727.6" r="8.8"/>
<circle cx="1110.5" cy="673.5" r="8.8"/>
<circle cx="1060.1" cy="810.0" r="8.8"/>
<circle cx="1104.3" cy="810.7" r="8.8"/>
<circle cx="1008.9" cy="826.3" r="8.8"/>
<circle cx="1128.4" cy="826.3" r="8.8"/>
<circle cx="1129.8" cy="829.2" r="8.8"/>
<circle cx="993.4" cy="830.7" r="8.8"/>
<circle cx="1223.3" cy="673.5" r="8.8"/>
<circle cx="1765.1" cy="653.7" r="8.8"/>
<circle cx="838.2" cy="840.8" r="8.8"/>
<circle cx="860.1" cy="836.3" r="8.8"/>
<circle cx="901.4" cy="840.8" r="8.8"/>
<circle cx="856.9" cy="863.0" r="8.8"/>
<circle cx="861.3" cy="891.2" r="8.8"/>
<circle cx="819.5" cy="902.2" r="8.8"/>
<circle cx="804.1" cy="909.6" r="8.8"/>
<circle cx="733.7" cy="914.4" r="8.8"/>
<circle cx="877.3" cy="914.4" r="8.8"/>
<circle cx="962.2" cy="841.4" r="8.8"/>
<circle cx="1035.8" cy="835.4" r="8.8"/>
<circle cx="1043.8" cy="840.8" r="8.8"/>
<circle cx="1009.7" cy="891.2" r="8.8"/>
<circle cx="1081.8" cy="902.5" r="8.8"/>
<circle cx="1198.1" cy="902.5" r="8.8"/>
<circle cx="1207.9" cy="899.2" r="8.8"/>
<circle cx="948.3" cy="931.3" r="8.8"/>
<circle cx="1114.1" cy="931.3" r="8.8"/>
<circle cx="1335.6" cy="899.2" r="8.8"/>
<circle cx="192.6" cy="35.5" r="8.8"/>
<circle cx="185.9" cy="110.8" r="8.8"/>
<circle cx="178.9" cy="127.8" r="8.8"/>
<circle cx="215.5" cy="177.1" r="8.8"/>
<circle cx="229.3" cy="69.3" r="8.8"/>
<circle cx="238.3" cy="107.6" r="8.8"/>
<circle cx="249.2" cy="117.4" r="8.8"/>
<circle cx="235.0" cy="129.8" r="8.8"/>
<circle cx="260.2" cy="45.5" r="8.8"/>
<circle cx="250.1" cy="40.9" r="8.8"/>
<circle cx="314.8" cy="83.4" r="8.8"/>
<circle cx="264.4" cy="104.4" r="8.8"/>
<circle cx="298.2" cy="180.8" r="8.8"/>
<circle cx="307.9" cy="211.0" r="8.8"/>
<circle cx="314.6" cy="43.5" r="8.8"/>
<circle cx="320.7" cy="131.0" r="8.8"/>
<circle cx="340.2" cy="152.6" r="8.8"/>
<circle cx="339.8" cy="175.0" r="8.8"/>
<circle cx="345.1" cy="202.1" r="8.8"/>
<circle cx="346.7" cy="197.0" r="8.8"/>
<circle cx="377.7" cy="48.8" r="8.8"/>
<circle cx="394.0" cy="66.7" r="8.8"/>
<circle cx="370.6" cy="75.6" r="8.8"/>
<circle cx="358.8" cy="86.8" r="8.8"/>
<circle cx="350.0" cy="172.7" r="8.8"/>
<circle cx="396.7" cy="174.8" r="8.8"/>
<circle cx="434.7" cy="32.0" r="8.8"/>
<circle cx="429.5" cy="86.4" r="8.8"/>
<circle cx="414.0" cy="139.7" r="8.8"/>
<circle cx="440.6" cy="202.8" r="8.8"/>
<circle cx="484.7" cy="70.0" r="8.8"/>
<circle cx="503.3" cy="80.2" r="8.8"/>
<circle cx="459.7" cy="175.0" r="8.8"/>
<circle cx="486.1" cy="142.3" r="8.8"/>
<circle cx="510.3" cy="140.8" r="8.8"/>
<circle cx="511.6" cy="97.1" r="8.8"/>
<circle cx="476.1" cy="208.8" r="8.8"/>
<circle cx="542.0" cy="57.6" r="8.8"/>
<circle cx="568.0" cy="87.5" r="8.8"/>
<circle cx="548.7" cy="137.5" r="8.8"/>
<circle cx="566.5" cy="148.9" r="8.8"/>
<circle cx="518.8" cy="204.3" r="8.8"/>
<circle cx="594.5" cy="178.7" r="8.8"/>
<circle cx="597.8" cy="187.3" r="8.8"/>
<circle cx="607.4" cy="192.7" r="8.8"/>
<circle cx="609.3" cy="196.0" r="8.8"/>
<circle cx="591.2" cy="210.4" r="8.8"/>
<circle cx="669.1" cy="93.1" r="8.8"/>
<circle cx="302.2" cy="240.2" r="8.8"/>
<circle cx="414.1" cy="228.6" r="8.8"/>
<circle cx="205.3" cy="264.0" r="8.8"/>
<circle cx="271.5" cy="275.9" r="8.8"/>
<circle cx="302.9" cy="278.0" r="8.8"/>
<circle cx="427.4" cy="266.5" r="8.8"/>
<circle cx="368.9" cy="319.1" r="8.8"/>
<circle cx="438.1" cy="303.7" r="8.8"/>
<circle cx="437.0" cy="345.9" r="8.8"/>
<circle cx="473.2" cy="228.2" r="8.8"/>
<circle cx="468.9" cy="243.0" r="8.8"/>
<circle cx="539.5" cy="217.9" r="8.8"/>
<circle cx="607.8" cy="245.3" r="8.8"/>
<circle cx="623.6" cy="232.3" r="8.8"/>
<circle cx="635.4" cy="237.5" r="8.8"/>
<circle cx="661.0" cy="238.3" r="8.8"/>
<circle cx="660.8" cy="234.9" r="8.8"/>
<circle cx="501.5" cy="268.2" r="8.8"/>
<circle cx="532.2" cy="266.5" r="8.8"/>
<circle cx="554.2" cy="279.7" r="8.8"/>
<circle cx="521.6" cy="300.4" r="8.8"/>
<circle cx="448.7" cy="299.3" r="8.8"/>
<circle cx="482.9" cy="314.6" r="8.8"/>
<circle cx="636.9" cy="266.8" r="8.8"/>
<circle cx="653.0" cy="258.5" r="8.8"/>
<circle cx="681.5" cy="266.0" r="8.8"/>
<circle cx="681.4" cy="318.5" r="8.8"/>
<circle cx="485.0" cy="337.4" r="8.8"/>
<circle cx="467.8" cy="354.5" r="8.8"/>
<circle cx="551.0" cy="333.9" r="8.8"/>
<circle cx="537.9" cy="351.0" r="8.8"/>
<circle cx="585.6" cy="333.0" r="8.8"/>
<circle cx="618.9" cy="364.9" r="8.8"/>
<circle cx="635.1" cy="368.3" r="8.8"/>
<circle cx="658.2" cy="325.2" r="8.8"/>
<circle cx="669.3" cy="367.7" r="8.8"/>
<circle cx="684.4" cy="359.5" r="8.8"/>
<circle cx="721.9" cy="307.2" r="8.8"/>
</g>
<g fill="#1f77b4" fill-opacity="0.3" stroke="#1f77b4" stroke-width="3.8" stroke-linejoin="round">
<circle cx="548.3" cy="389.6" r="8.8"/>
<circle cx="522.3" cy="407.4" r="8.8"/>
<circle cx="634.3" cy="395.6" r="8.8"/>
<circle cx="638.0" cy="411.9" r="8.8"/>
<circle cx="698.1" cy="403.0" r="8.8"/>
<circle cx="701.1" cy="408.9" r="8.8"/>
<circle cx="792.8" cy="391.1" r="8.8"/>
<circle cx="835.8" cy="395.6" r="8.8"/>
<circle cx="764.9" cy="407.4" r="8.8"/>
<circle cx="736.0" cy="391.1" r="8.8"/>
<circle cx="744.9" cy="395.6" r="8.8"/>
<circle cx="749.3" cy="387.4" r="8.8"/>
<circle cx="754.5" cy="421.5" r="8.8"/>
<circle cx="404.4" cy="582.7" r="8.8"/>
<circle cx="594.7" cy="518.5" r="8.8"/>
<circle cx="703.3" cy="599.8" r="8.8"/>
<circle cx="713.0" cy="597.6" r="8.8"/>
<circle cx="724.8" cy="433.6" r="8.8"/>
<circle cx="756.0" cy="429.2" r="8.8"/>
<circle cx="725.6" cy="488.5" r="8.8"/>
<circle cx="758.7" cy="514.8" r="8.8"/>
<circle cx="776.0" cy="540.8" r="8.8"/>
<circle cx="817.6" cy="517.8" r="8.8"/>
<circle cx="818.7" cy="551.6" r="8.8"/>
<circle cx="813.8" cy="560.5" r="8.8"/>
<circle cx="846.5" cy="530.4" r="8.8"/>
<circle cx="852.7" cy="550.1" r="8.8"/>
<circle cx="857.6" cy="559.7" r="8.8"/>
<circle cx="853.6" cy="462.6" r="8.8"/>
<circle cx="867.5" cy="476.7" r="8.8"/>
<circle cx="859.8" cy="499.7" r="8.8"/>
<circle cx="902.1" cy="450.7" r="8.8"/>
<circle cx="909.5" cy="473.0" r="8.8"/>
<circle cx="783.7" cy="588.4" r="8.8"/>
<circle cx="831.9" cy="602.5" r="8.8"/>
<circle cx="872.4" cy="586.4" r="8.8"/>
<circle cx="886.5" cy="586.4" r="8.8"/>
<circle cx="860.3" cy="618.3" r="8.8"/>
<circle cx="912.1" cy="625.0" r="8.8"/>
<circle cx="975.5" cy="605.0" r="8.8"/>
<circle cx="1054.2" cy="444.8" r="8.8"/>
<circle cx="1543.5" cy="624.8" r="8.8"/>
<circle cx="624.8" cy="657.2" r="8.8"/>
<circle cx="600.2" cy="700.2" r="8.8"/>
<circle cx="624.5" cy="695.1" r="8.8"/>
<circle cx="494.9" cy="736.1" r="8.8"/>
<circle cx="832.8" cy="644.5" r="8.8"/>
<circle cx="865.0" cy="656.4" r="8.8"/>
<circle cx="901.8" cy="648.0" r="8.8"/>
<circle cx="853.5" cy="696.9" r="8.8"/>
<circle cx="806.9" cy="732.1" r="8.8"/>
<circle cx="928.1" cy="695.0" r="8.8"/>
<circle cx="917.7" cy="723.6" r="8.8"/>
<circle cx="977.0" cy="715.0" r="8.8"/>
<circle cx="977.0" cy="657.2" r="8.8"/>
<circle cx="978.5" cy="676.4" r="8.8"/>
<circle cx="879.1" cy="785.5" r="8.8"/>
<circle cx="1088.0" cy="674.2" r="8.8"/>
<circle cx="1166.6" cy="695.0" r="8.8"/>
</g>
<g fill="#ff7f0e" fill-opacity="0.3" stroke="#ff7f0e" stroke-opacity="0.3" stroke-width="1.7">
<path d="M1169.6 692.9l8.8 17.6h-17.6z"/>
<path d="M1310.8 664.7l8.8 17.6h-17.6z"/>
<path d="M1315.3 675.1l8.8 17.6h-17.6z"/>
<path d="M1326.4 689.9l8.8 17.6h-17.6z"/>
<path d="M1325.7 698.8l8.8 17.6h-17.6z"/>
<path d="M1340.5 695.8l8.8 17.6h-17.6z"/>
<path d="M1297.5 684.0l8.8 17.6h-17.6z"/>
<path d="M1362.7 741.8l8.8 17.6h-17.6z"/>
<path d="M1353.8 753.7l8.8 17.6h-17.6z"/>
<path d="M1356.8 765.6l8.8 17.6h-17.6z"/>
<path d="M1331.6 770.0l8.8 17.6h-17.6z"/>
<path d="M1343.5 767.0l8.8 17.6h-17.6z"/>
<path d="M1373.1 771.5l8.8 17.6h-17.6z"/>
<path d="M1387.2 770.0l8.8 17.6h-17.6z"/>
<path d="M1405.8 765.6l8.8 17.6h-17.6z"/>
<path d="M1428.0 765.6l8.8 17.6h-17.6z"/>
<path d="M1422.1 759.6l8.8 17.6h-17.6z"/>
<path d="M1454.0 773.0l8.8 17.6h-17.6z"/>
<path d="M1445.8 778.9l8.8 17.6h-17.6z"/>
<path d="M1389.5 784.8l8.8 17.6h-17.6z"/>
<path d="M1404.3 777.4l8.8 17.6h-17.6z"/>
<path d="M1394.6 808.6l8.8 17.6h-17.6z"/>
<path d="M1420.6 810.1l8.8 17.6h-17.6z"/>
<path d="M1438.4 811.5l8.8 17.6h-17.6z"/>
<path d="M1462.1 801.2l8.8 17.6h-17.6z"/>
<path d="M1472.5 799.7l8.8 17.6h-17.6z"/>
<path d="M1466.6 808.6l8.8 17.6h-17.6z"/>
<path d="M1460.7 816.0l8.8 17.6h-17.6z"/>
<path d="M1413.2 756.7l8.8 17.6h-17.6z"/>
<path d="M1347.9 774.5l8.8 17.6h-17.6z"/>
<path d="M1553.8 763.4l8.8 17.6h-17.6z"/>
<path d="M1529.2 801.8l8.8 17.6h-17.6z"/>
<path d="M1560.0 768.7l8.8 17.6h-17.6z"/>
<path d="M1378.3 864.4l8.8 17.6h-17.6z"/>
<path d="M1439.4 836.3l8.8 17.6h-17.6z"/>
<path d="M1443.6 860.7l8.8 17.6h-17.6z"/>
<path d="M1467.3 822.2l8.8 17.6h-17.6z"/>
<path d="M1475.5 841.5l8.8 17.6h-17.6z"/>
<path d="M1488.8 837.0l8.8 17.6h-17.6z"/>
<path d="M1493.3 844.4l8.8 17.6h-17.6z"/>
<path d="M1496.3 846.6l8.8 17.6h-17.6z"/>
<path d="M1475.5 880.8l8.8 17.6h-17.6z"/>
<path d="M1479.2 888.9l8.8 17.6h-17.6z"/>
<path d="M1480.7 898.6l8.8 17.6h-17.6z"/>
<path d="M1490.3 903.8l8.8 17.6h-17.6z"/>
<path d="M1498.5 898.6l8.8 17.6h-17.6z"/>
<path d="M1499.2 911.2l8.8 17.6h-17.6z"/>
<path d="M1497.5 923.8l8.8 17.6h-17.6z"/>
<path d="M1520.0 969.0l8.8 17.6h-17.6z"/>
<path d="M1529.2 825.4l8.8 17.6h-17.6z"/>
<path d="M1564.2 834.6l8.8 17.6h-17.6z"/>
<path d="M1549.2 878.4l8.8 17.6h-17.6z"/>
<path d="M1558.9 891.5l8.8 17.6h-17.6z"/>
<path d="M1590.5 903.0l8.8 17.6h-17.6z"/>
<path d="M1619.2 898.4l8.8 17.6h-17.6z"/>
<path d="M1632.0 900.0l8.8 17.6h-17.6z"/>
<path d="M1618.5 917.7l8.8 17.6h-17.6z"/>
<path d="M1635.4 919.2l8.8 17.6h-17.6z"/>
<path d="M1692.0 906.9l8.8 17.6h-17.6z"/>
<path d="M1544.3 937.7l8.8 17.6h-17.6z"/>
<path d="M1566.2 939.2l8.8 17.6h-17.6z"/>
<path d="M1583.8 936.1l8.8 17.6h-17.6z"/>
<path d="M1544.3 967.7l8.8 17.6h-17.6z"/>
<path d="M1638.5 968.4l8.8 17.6h-17.6z"/>
<path d="M1590.8 980.0l8.8 17.6h-17.6z"/>
<path d="M1571.2 989.2l8.8 17.6h-17.6z"/>
<path d="M1636.5 992.3l8.8 17.6h-17.6z"/>
<path d="M1617.4 1001.5l8.8 17.6h-17.6z"/>
<path d="M1625.4 1069.4l8.8 17.6h-17.6z"/>
<path d="M1713.2 1040.5l8.8 17.6h-17.6z"/>
<path d="M1328.5 692.1l8.8 17.6h-17.6z"/>
<path d="M1292.2 683.3l8.8 17.6h-17.6z"/>
<path d="M1370.4 739.5l8.8 17.6h-17.6z"/>
<path d="M1357.9 748.7l8.8 17.6h-17.6z"/>
<path d="M1328.9 764.8l8.8 17.6h-17.6z"/>
<path d="M1388.1 762.1l8.8 17.6h-17.6z"/>
<path d="M1426.6 759.7l8.8 17.6h-17.6z"/>
<path d="M1455.8 797.4l8.8 17.6h-17.6z"/>
<path d="M1473.4 805.3l8.8 17.6h-17.6z"/>
<path d="M1459.3 808.7l8.8 17.6h-17.6z"/>
<path d="M1548.8 761.1l8.8 17.6h-17.6z"/>
<path d="M1560.7 764.4l8.8 17.6h-17.6z"/>
</g>
<g fill="#ff7f0e" fill-opacity="0.3" stroke="#ff7f0e" stroke-width="3.8" stroke-linejoin="round">
<path d="M1021.5 410.5l8.8 17.6h-17.6z"/>
<path d="M1150.6 407.5l8.8 17.6h-17.6z"/>
<path d="M1018.6 419.7l8.8 17.6h-17.6z"/>
<path d="M1034.9 477.5l8.8 17.6h-17.6z"/>
<path d="M1042.3 486.4l8.8 17.6h-17.6z"/>
<path d="M1063.1 498.3l8.8 17.6h-17.6z"/>
<path d="M1076.4 502.7l8.8 17.6h-17.6z"/>
<path d="M1113.5 516.1l8.8 17.6h-17.6z"/>
<path d="M1122.4 504.2l8.8 17.6h-17.6z"/>
<path d="M1072.0 562.1l8.8 17.6h-17.6z"/>
<path d="M1115.0 536.8l8.8 17.6h-17.6z"/>
<path d="M1134.3 548.7l8.8 17.6h-17.6z"/>
<path d="M1143.2 541.3l8.8 17.6h-17.6z"/>
<path d="M1128.4 557.6l8.8 17.6h-17.6z"/>
<path d="M1118.0 566.5l8.8 17.6h-17.6z"/>
<path d="M1140.2 576.9l8.8 17.6h-17.6z"/>
<path d="M1150.6 571.0l8.8 17.6h-17.6z"/>
<path d="M1162.5 560.6l8.8 17.6h-17.6z"/>
<path d="M1172.9 593.2l8.8 17.6h-17.6z"/>
<path d="M1181.8 597.7l8.8 17.6h-17.6z"/>
<path d="M1143.2 585.8l8.8 17.6h-17.6z"/>
<path d="M1134.3 584.3l8.8 17.6h-17.6z"/>
<path d="M1169.9 566.5l8.8 17.6h-17.6z"/>
<path d="M1129.8 614.0l8.8 17.6h-17.6z"/>
<path d="M1187.7 608.1l8.8 17.6h-17.6z"/>
<path d="M1264.8 539.8l8.8 17.6h-17.6z"/>
<path d="M1279.7 545.7l8.8 17.6h-17.6z"/>
<path d="M1253.0 606.6l8.8 17.6h-17.6z"/>
<path d="M1208.5 646.9l8.8 17.6h-17.6z"/>
<path d="M1217.4 640.9l8.8 17.6h-17.6z"/>
<path d="M1220.3 655.8l8.8 17.6h-17.6z"/>
<path d="M1229.2 643.9l8.8 17.6h-17.6z"/>
<path d="M1235.2 651.3l8.8 17.6h-17.6z"/>
<path d="M1211.4 657.3l8.8 17.6h-17.6z"/>
<path d="M1239.6 669.1l8.8 17.6h-17.6z"/>
<path d="M1244.1 661.7l8.8 17.6h-17.6z"/>
<path d="M1226.3 636.5l8.8 17.6h-17.6z"/>
<path d="M1247.0 676.5l8.8 17.6h-17.6z"/>
<path d="M1274.5 660.2l8.8 17.6h-17.6z"/>
<path d="M1281.2 666.2l8.8 17.6h-17.6z"/>
<path d="M1291.5 670.6l8.8 17.6h-17.6z"/>
<path d="M1258.9 673.6l8.8 17.6h-17.6z"/>
<path d="M1267.8 679.5l8.8 17.6h-17.6z"/>
<path d="M1288.6 688.4l8.8 17.6h-17.6z"/>
<path d="M1299.7 718.1l8.8 17.6h-17.6z"/>
<path d="M1274.5 723.3l8.8 17.6h-17.6z"/>
<path d="M1358.3 698.1l8.8 17.6h-17.6z"/>
<path d="M1333.1 712.1l8.8 17.6h-17.6z"/>
<path d="M1371.6 710.7l8.8 17.6h-17.6z"/>
<path d="M1337.5 725.5l8.8 17.6h-17.6z"/>
<path d="M1353.8 719.6l8.8 17.6h-17.6z"/>
<path d="M1316.8 737.4l8.8 17.6h-17.6z"/>
<path d="M1350.9 735.9l8.8 17.6h-17.6z"/>
<path d="M1255.9 617.2l8.8 17.6h-17.6z"/>
</g>
<g fill="#daa520" fill-opacity="0.3" stroke="#daa520" stroke-opacity="0.3" stroke-width="1.7">
<path d="M793.1 69.6l8.8 -17.6h-17.6z"/>
<path d="M891.7 64.0l8.8 -17.6h-17.6z"/>
<path d="M966.2 51.1l8.8 -17.6h-17.6z"/>
<path d="M965.6 77.0l8.8 -17.6h-17.6z"/>
<path d="M905.1 100.0l8.8 -17.6h-17.6z"/>
<path d="M905.1 98.5l8.8 -17.6h-17.6z"/>
<path d="M949.6 98.8l8.8 -17.6h-17.6z"/>
<path d="M928.4 111.9l8.8 -17.6h-17.6z"/>
<path d="M919.2 118.6l8.8 -17.6h-17.6z"/>
<path d="M978.5 106.7l8.8 -17.6h-17.6z"/>
<path d="M760.4 183.1l8.8 -17.6h-17.6z"/>
<path d="M930.0 159.1l8.8 -17.6h-17.6z"/>
<path d="M940.2 170.0l8.8 -17.6h-17.6z"/>
<path d="M977.0 158.6l8.8 -17.6h-17.6z"/>
<path d="M922.6 185.8l8.8 -17.6h-17.6z"/>
<path d="M964.7 183.1l8.8 -17.6h-17.6z"/>
<path d="M906.6 196.4l8.8 -17.6h-17.6z"/>
<path d="M902.9 204.6l8.8 -17.6h-17.6z"/>
<path d="M927.3 195.0l8.8 -17.6h-17.6z"/>
<path d="M958.5 195.0l8.8 -17.6h-17.6z"/>
<path d="M960.7 198.7l8.8 -17.6h-17.6z"/>
<path d="M923.3 217.9l8.8 -17.6h-17.6z"/>
<path d="M912.5 229.8l8.8 -17.6h-17.6z"/>
<path d="M939.2 233.5l8.8 -17.6h-17.6z"/>
<path d="M978.5 224.6l8.8 -17.6h-17.6z"/>
<path d="M789.4 228.3l8.8 -17.6h-17.6z"/>
<path d="M889.5 236.5l8.8 -17.6h-17.6z"/>
<path d="M1002.7 94.1l8.8 -17.6h-17.6z"/>
<path d="M1019.8 167.5l8.8 -17.6h-17.6z"/>
<path d="M1015.6 183.1l8.8 -17.6h-17.6z"/>
<path d="M1069.0 217.2l8.8 -17.6h-17.6z"/>
<path d="M1013.4 221.7l8.8 -17.6h-17.6z"/>
<path d="M1013.8 229.1l8.8 -17.6h-17.6z"/>
<path d="M987.4 224.6l8.8 -17.6h-17.6z"/>
<path d="M1053.7 232.0l8.8 -17.6h-17.6z"/>
<path d="M1091.3 221.7l8.8 -17.6h-17.6z"/>
<path d="M1175.8 224.6l8.8 -17.6h-17.6z"/>
<path d="M800.5 253.1l8.8 -17.6h-17.6z"/>
<path d="M815.3 266.4l8.8 -17.6h-17.6z"/>
<path d="M813.8 291.6l8.8 -17.6h-17.6z"/>
<path d="M827.9 262.7l8.8 -17.6h-17.6z"/>
<path d="M763.4 339.8l8.8 -17.6h-17.6z"/>
<path d="M784.2 334.6l8.8 -17.6h-17.6z"/>
<path d="M837.6 348.0l8.8 -17.6h-17.6z"/>
<path d="M859.1 356.9l8.8 -17.6h-17.6z"/>
<path d="M898.4 350.2l8.8 -17.6h-17.6z"/>
<path d="M873.2 367.3l8.8 -17.6h-17.6z"/>
<path d="M883.6 365.8l8.8 -17.6h-17.6z"/>
<path d="M879.1 361.3l8.8 -17.6h-17.6z"/>
<path d="M818.3 359.9l8.8 -17.6h-17.6z"/>
<path d="M822.7 373.2l8.8 -17.6h-17.6z"/>
<path d="M846.5 337.6l8.8 -17.6h-17.6z"/>
<path d="M813.8 352.4l8.8 -17.6h-17.6z"/>
<path d="M953.3 250.1l8.8 -17.6h-17.6z"/>
<path d="M977.0 242.7l8.8 -17.6h-17.6z"/>
<path d="M971.1 256.0l8.8 -17.6h-17.6z"/>
<path d="M920.7 264.9l8.8 -17.6h-17.6z"/>
<path d="M947.4 264.9l8.8 -17.6h-17.6z"/>
<path d="M962.2 269.4l8.8 -17.6h-17.6z"/>
<path d="M974.1 275.3l8.8 -17.6h-17.6z"/>
<path d="M932.5 279.8l8.8 -17.6h-17.6z"/>
<path d="M902.9 293.1l8.8 -17.6h-17.6z"/>
<path d="M885.1 316.8l8.8 -17.6h-17.6z"/>
<path d="M846.5 319.8l8.8 -17.6h-17.6z"/>
<path d="M858.4 305.0l8.8 -17.6h-17.6z"/>
<path d="M917.7 305.0l8.8 -17.6h-17.6z"/>
<path d="M962.2 297.6l8.8 -17.6h-17.6z"/>
<path d="M971.1 313.9l8.8 -17.6h-17.6z"/>
<path d="M910.3 342.1l8.8 -17.6h-17.6z"/>
<path d="M932.5 349.5l8.8 -17.6h-17.6z"/>
<path d="M944.4 361.3l8.8 -17.6h-17.6z"/>
<path d="M953.3 353.9l8.8 -17.6h-17.6z"/>
<path d="M965.2 364.3l8.8 -17.6h-17.6z"/>
<path d="M926.6 370.3l8.8 -17.6h-17.6z"/>
<path d="M939.9 374.7l8.8 -17.6h-17.6z"/>
<path d="M911.8 380.6l8.8 -17.6h-17.6z"/>
<path d="M929.6 379.2l8.8 -17.6h-17.6z"/>
<path d="M950.3 382.1l8.8 -17.6h-17.6z"/>
<path d="M962.2 386.6l8.8 -17.6h-17.6z"/>
<path d="M972.6 379.2l8.8 -17.6h-17.6z"/>
<path d="M939.9 364.3l8.8 -17.6h-17.6z"/>
<path d="M977.0 334.6l8.8 -17.6h-17.6z"/>
<path d="M954.8 334.6l8.8 -17.6h-17.6z"/>
<path d="M806.4 239.7l8.8 -17.6h-17.6z"/>
<path d="M1093.5 249.3l8.8 -17.6h-17.6z"/>
<path d="M985.9 239.7l8.8 -17.6h-17.6z"/>
<path d="M1176.6 231.5l8.8 -17.6h-17.6z"/>
<path d="M1061.6 269.4l8.8 -17.6h-17.6z"/>
<path d="M1033.4 278.3l8.8 -17.6h-17.6z"/>
<path d="M1060.1 279.8l8.8 -17.6h-17.6z"/>
<path d="M1069.0 279.8l8.8 -17.6h-17.6z"/>
<path d="M1155.5 272.3l8.8 -17.6h-17.6z"/>
<path d="M1178.0 282.7l8.8 -17.6h-17.6z"/>
<path d="M1181.0 295.3l8.8 -17.6h-17.6z"/>
<path d="M1015.6 282.0l8.8 -17.6h-17.6z"/>
<path d="M1015.6 293.1l8.8 -17.6h-17.6z"/>
<path d="M1079.4 288.7l8.8 -17.6h-17.6z"/>
<path d="M1082.4 291.6l8.8 -17.6h-17.6z"/>
<path d="M1076.4 299.0l8.8 -17.6h-17.6z"/>
<path d="M1041.6 304.2l8.8 -17.6h-17.6z"/>
<path d="M1042.3 309.4l8.8 -17.6h-17.6z"/>
<path d="M1074.9 307.9l8.8 -17.6h-17.6z"/>
<path d="M1094.2 313.9l8.8 -17.6h-17.6z"/>
<path d="M1106.1 316.8l8.8 -17.6h-17.6z"/>
<path d="M1122.4 311.7l8.8 -17.6h-17.6z"/>
<path d="M1129.8 322.8l8.8 -17.6h-17.6z"/>
<path d="M1176.6 313.9l8.8 -17.6h-17.6z"/>
<path d="M1186.2 319.1l8.8 -17.6h-17.6z"/>
<path d="M1199.6 336.9l8.8 -17.6h-17.6z"/>
<path d="M1151.3 340.6l8.8 -17.6h-17.6z"/>
<path d="M1132.1 346.5l8.8 -17.6h-17.6z"/>
<path d="M1043.8 345.8l8.8 -17.6h-17.6z"/>
<path d="M1076.4 329.5l8.8 -17.6h-17.6z"/>
<path d="M1085.3 340.6l8.8 -17.6h-17.6z"/>
<path d="M1095.7 340.6l8.8 -17.6h-17.6z"/>
<path d="M1100.2 350.2l8.8 -17.6h-17.6z"/>
<path d="M1015.6 312.4l8.8 -17.6h-17.6z"/>
<path d="M1017.1 319.8l8.8 -17.6h-17.6z"/>
<path d="M1023.0 327.2l8.8 -17.6h-17.6z"/>
<path d="M1024.5 334.6l8.8 -17.6h-17.6z"/>
<path d="M1020.1 340.6l8.8 -17.6h-17.6z"/>
<path d="M1061.6 322.8l8.8 -17.6h-17.6z"/>
<path d="M1083.8 362.8l8.8 -17.6h-17.6z"/>
<path d="M1089.8 363.6l8.8 -17.6h-17.6z"/>
<path d="M1117.2 361.3l8.8 -17.6h-17.6z"/>
<path d="M1110.5 368.0l8.8 -17.6h-17.6z"/>
<path d="M1120.9 380.6l8.8 -17.6h-17.6z"/>
<path d="M1060.1 371.0l8.8 -17.6h-17.6z"/>
<path d="M1153.6 376.2l8.8 -17.6h-17.6z"/>
<path d="M1184.7 381.4l8.8 -17.6h-17.6z"/>
<path d="M1171.4 386.6l8.8 -17.6h-17.6z"/>
<path d="M1211.4 392.5l8.8 -17.6h-17.6z"/>
<path d="M1180.3 395.5l8.8 -17.6h-17.6z"/>
<path d="M1247.0 248.6l8.8 -17.6h-17.6z"/>
<path d="M1248.5 299.0l8.8 -17.6h-17.6z"/>
<path d="M999.3 272.3l8.8 -17.6h-17.6z"/>
<path d="M994.8 297.6l8.8 -17.6h-17.6z"/>
<path d="M1254.5 254.6l8.8 -17.6h-17.6z"/>
<path d="M1296.8 303.0l8.8 -17.6h-17.6z"/>
<path d="M1313.5 301.8l8.8 -17.6h-17.6z"/>
<path d="M1297.4 315.1l8.8 -17.6h-17.6z"/>
<path d="M1315.9 347.7l8.8 -17.6h-17.6z"/>
<path d="M1349.7 344.1l8.8 -17.6h-17.6z"/>
<path d="M1317.4 392.4l8.8 -17.6h-17.6z"/>
<path d="M903.6 827.7l8.8 -17.6h-17.6z"/>
<path d="M994.8 802.4l8.8 -17.6h-17.6z"/>
<path d="M997.8 808.4l8.8 -17.6h-17.6z"/>
<path d="M1169.9 818.0l8.8 -17.6h-17.6z"/>
<path d="M1214.4 816.5l8.8 -17.6h-17.6z"/>
<path d="M1205.5 799.5l8.8 -17.6h-17.6z"/>
<path d="M1286.3 829.9l8.8 -17.6h-17.6z"/>
<path d="M904.6 895.6l8.8 -17.6h-17.6z"/>
<path d="M1066.0 896.2l8.8 -17.6h-17.6z"/>
<path d="M1126.9 859.4l8.8 -17.6h-17.6z"/>
<path d="M1142.6 852.5l8.8 -17.6h-17.6z"/>
<path d="M1154.2 864.4l8.8 -17.6h-17.6z"/>
<path d="M1136.7 923.7l8.8 -17.6h-17.6z"/>
<path d="M1137.3 922.3l8.8 -17.6h-17.6z"/>
<path d="M1250.0 901.5l8.8 -17.6h-17.6z"/>
<path d="M1247.0 935.6l8.8 -17.6h-17.6z"/>
<path d="M1350.6 920.6l8.8 -17.6h-17.6z"/>
<path d="M1254.5 939.2l8.8 -17.6h-17.6z"/>
<path d="M1286.3 836.8l8.8 -17.6h-17.6z"/>
<path d="M903.9 348.9l8.8 -17.6h-17.6z"/>
<path d="M883.7 375.8l8.8 -17.6h-17.6z"/>
<path d="M874.5 355.7l8.8 -17.6h-17.6z"/>
<path d="M973.7 251.3l8.8 -17.6h-17.6z"/>
<path d="M926.9 265.7l8.8 -17.6h-17.6z"/>
<path d="M932.0 289.7l8.8 -17.6h-17.6z"/>
<path d="M897.8 288.4l8.8 -17.6h-17.6z"/>
<path d="M962.2 357.8l8.8 -17.6h-17.6z"/>
<path d="M934.0 367.6l8.8 -17.6h-17.6z"/>
<path d="M973.1 373.7l8.8 -17.6h-17.6z"/>
<path d="M1066.1 275.6l8.8 -17.6h-17.6z"/>
<path d="M1066.3 275.5l8.8 -17.6h-17.6z"/>
<path d="M1155.7 277.4l8.8 -17.6h-17.6z"/>
<path d="M1071.8 302.6l8.8 -17.6h-17.6z"/>
<path d="M1075.6 301.5l8.8 -17.6h-17.6z"/>
<path d="M1094.8 307.2l8.8 -17.6h-17.6z"/>
<path d="M1100.4 319.3l8.8 -17.6h-17.6z"/>
<path d="M1136.8 349.3l8.8 -17.6h-17.6z"/>
<path d="M1022.8 320.4l8.8 -17.6h-17.6z"/>
<path d="M1092.9 358.4l8.8 -17.6h-17.6z"/>
<path d="M1119.1 366.1l8.8 -17.6h-17.6z"/>
<path d="M1160.7 374.8l8.8 -17.6h-17.6z"/>
<path d="M1178.8 376.8l8.8 -17.6h-17.6z"/>
<path d="M1186.0 401.0l8.8 -17.6h-17.6z"/>
<path d="M986.8 300.8l8.8 -17.6h-17.6z"/>
</g>
<g fill="#daa520" fill-opacity="0.3" stroke="#daa520" stroke-width="3.8" stroke-linejoin="round">
<path d="M934.0 390.3l8.8 -17.6h-17.6z"/>
<path d="M923.6 399.9l8.8 -17.6h-17.6z"/>
<path d="M935.5 401.4l8.8 -17.6h-17.6z"/>
<path d="M947.4 398.4l8.8 -17.6h-17.6z"/>
<path d="M959.2 402.9l8.8 -17.6h-17.6z"/>
<path d="M971.1 399.9l8.8 -17.6h-17.6z"/>
<path d="M977.0 408.8l8.8 -17.6h-17.6z"/>
<path d="M925.1 411.8l8.8 -17.6h-17.6z"/>
<path d="M941.4 413.3l8.8 -17.6h-17.6z"/>
<path d="M953.3 414.8l8.8 -17.6h-17.6z"/>
<path d="M965.2 416.2l8.8 -17.6h-17.6z"/>
<path d="M932.5 422.2l8.8 -17.6h-17.6z"/>
<path d="M947.4 425.1l8.8 -17.6h-17.6z"/>
<path d="M974.1 422.2l8.8 -17.6h-17.6z"/>
<path d="M942.9 432.6l8.8 -17.6h-17.6z"/>
<path d="M959.2 431.1l8.8 -17.6h-17.6z"/>
<path d="M1129.1 391.0l8.8 -17.6h-17.6z"/>
<path d="M985.9 405.9l8.8 -17.6h-17.6z"/>
<path d="M999.3 402.9l8.8 -17.6h-17.6z"/>
<path d="M1097.2 398.4l8.8 -17.6h-17.6z"/>
<path d="M1109.1 408.8l8.8 -17.6h-17.6z"/>
<path d="M1104.6 404.4l8.8 -17.6h-17.6z"/>
<path d="M1187.7 417.7l8.8 -17.6h-17.6z"/>
<path d="M1247.0 413.3l8.8 -17.6h-17.6z"/>
<path d="M1164.0 419.2l8.8 -17.6h-17.6z"/>
<path d="M1177.3 422.2l8.8 -17.6h-17.6z"/>
<path d="M1009.7 425.1l8.8 -17.6h-17.6z"/>
<path d="M1119.5 429.6l8.8 -17.6h-17.6z"/>
<path d="M1165.4 429.6l8.8 -17.6h-17.6z"/>
<path d="M1282.6 394.6l8.8 -17.6h-17.6z"/>
<path d="M1260.6 416.6l8.8 -17.6h-17.6z"/>
<path d="M1313.5 435.4l8.8 -17.6h-17.6z"/>
<path d="M817.9 460.2l8.8 -17.6h-17.6z"/>
<path d="M821.7 488.4l8.8 -17.6h-17.6z"/>
<path d="M894.7 451.3l8.8 -17.6h-17.6z"/>
<path d="M914.7 452.1l8.8 -17.6h-17.6z"/>
<path d="M923.6 443.2l8.8 -17.6h-17.6z"/>
<path d="M928.1 455.1l8.8 -17.6h-17.6z"/>
<path d="M935.5 452.1l8.8 -17.6h-17.6z"/>
<path d="M920.7 469.9l8.8 -17.6h-17.6z"/>
<path d="M931.0 462.5l8.8 -17.6h-17.6z"/>
<path d="M940.7 477.3l8.8 -17.6h-17.6z"/>
<path d="M939.9 489.2l8.8 -17.6h-17.6z"/>
<path d="M962.2 453.6l8.8 -17.6h-17.6z"/>
<path d="M966.6 462.5l8.8 -17.6h-17.6z"/>
<path d="M949.6 522.6l8.8 -17.6h-17.6z"/>
<path d="M899.1 560.4l8.8 -17.6h-17.6z"/>
<path d="M967.4 548.5l8.8 -17.6h-17.6z"/>
<path d="M962.9 570.8l8.8 -17.6h-17.6z"/>
<path d="M981.5 561.9l8.8 -17.6h-17.6z"/>
<path d="M858.4 591.5l8.8 -17.6h-17.6z"/>
<path d="M878.1 590.1l8.8 -17.6h-17.6z"/>
<path d="M908.5 592.3l8.8 -17.6h-17.6z"/>
<path d="M834.6 639.0l8.8 -17.6h-17.6z"/>
<path d="M974.1 447.6l8.8 -17.6h-17.6z"/>
<path d="M984.5 437.3l8.8 -17.6h-17.6z"/>
<path d="M1021.5 441.7l8.8 -17.6h-17.6z"/>
<path d="M1051.2 446.2l8.8 -17.6h-17.6z"/>
<path d="M1017.1 455.1l8.8 -17.6h-17.6z"/>
<path d="M1034.9 438.7l8.8 -17.6h-17.6z"/>
<path d="M1006.7 498.1l8.8 -17.6h-17.6z"/>
<path d="M1003.7 515.9l8.8 -17.6h-17.6z"/>
<path d="M1063.1 465.4l8.8 -17.6h-17.6z"/>
<path d="M1098.7 475.8l8.8 -17.6h-17.6z"/>
<path d="M1063.1 484.7l8.8 -17.6h-17.6z"/>
<path d="M1048.2 504.0l8.8 -17.6h-17.6z"/>
<path d="M1046.8 535.2l8.8 -17.6h-17.6z"/>
<path d="M1031.9 526.3l8.8 -17.6h-17.6z"/>
<path d="M1092.7 502.5l8.8 -17.6h-17.6z"/>
<path d="M1120.9 514.4l8.8 -17.6h-17.6z"/>
<path d="M1103.1 532.2l8.8 -17.6h-17.6z"/>
<path d="M1162.5 524.8l8.8 -17.6h-17.6z"/>
<path d="M1178.8 440.2l8.8 -17.6h-17.6z"/>
<path d="M1201.0 456.5l8.8 -17.6h-17.6z"/>
<path d="M1242.6 465.4l8.8 -17.6h-17.6z"/>
<path d="M1241.1 472.9l8.8 -17.6h-17.6z"/>
<path d="M1064.6 554.4l8.8 -17.6h-17.6z"/>
<path d="M1051.2 553.0l8.8 -17.6h-17.6z"/>
<path d="M993.4 581.2l8.8 -17.6h-17.6z"/>
<path d="M1101.6 582.6l8.8 -17.6h-17.6z"/>
<path d="M1076.4 607.9l8.8 -17.6h-17.6z"/>
<path d="M1080.9 612.3l8.8 -17.6h-17.6z"/>
<path d="M1063.1 600.4l8.8 -17.6h-17.6z"/>
<path d="M1026.0 596.0l8.8 -17.6h-17.6z"/>
<path d="M1042.3 624.2l8.8 -17.6h-17.6z"/>
<path d="M1051.2 618.2l8.8 -17.6h-17.6z"/>
<path d="M1134.3 628.6l8.8 -17.6h-17.6z"/>
<path d="M1247.0 622.7l8.8 -17.6h-17.6z"/>
<path d="M1209.9 600.4l8.8 -17.6h-17.6z"/>
<path d="M1375.4 465.7l8.8 -17.6h-17.6z"/>
<path d="M1289.6 481.8l8.8 -17.6h-17.6z"/>
<path d="M1301.5 524.0l8.8 -17.6h-17.6z"/>
<path d="M1250.0 466.9l8.8 -17.6h-17.6z"/>
<path d="M1254.5 621.2l8.8 -17.6h-17.6z"/>
<path d="M1266.3 558.9l8.8 -17.6h-17.6z"/>
<path d="M938.5 662.2l8.8 -17.6h-17.6z"/>
<path d="M973.3 654.8l8.8 -17.6h-17.6z"/>
<path d="M966.2 793.5l8.8 -17.6h-17.6z"/>
<path d="M992.6 649.6l8.8 -17.6h-17.6z"/>
<path d="M1055.7 648.2l8.8 -17.6h-17.6z"/>
<path d="M1099.4 669.7l8.8 -17.6h-17.6z"/>
<path d="M1112.8 688.9l8.8 -17.6h-17.6z"/>
<path d="M1138.0 710.5l8.8 -17.6h-17.6z"/>
<path d="M1143.9 723.8l8.8 -17.6h-17.6z"/>
<path d="M1187.7 709.0l8.8 -17.6h-17.6z"/>
<path d="M1090.5 752.7l8.8 -17.6h-17.6z"/>
<path d="M1173.6 654.1l8.8 -17.6h-17.6z"/>
<path d="M1209.9 755.0l8.8 -17.6h-17.6z"/>
<path d="M1230.7 707.5l8.8 -17.6h-17.6z"/>
<path d="M1258.9 665.2l8.8 -17.6h-17.6z"/>
<path d="M1301.9 673.4l8.8 -17.6h-17.6z"/>
<path d="M1316.8 740.1l8.8 -17.6h-17.6z"/>
<path d="M1340.5 763.9l8.8 -17.6h-17.6z"/>
<path d="M1379.1 649.6l8.8 -17.6h-17.6z"/>
<path d="M1264.8 720.8l8.8 -17.6h-17.6z"/>
<path d="M1113.4 414.9l8.8 -17.6h-17.6z"/>
<path d="M1098.6 403.0l8.8 -17.6h-17.6z"/>
<path d="M1183.0 417.5l8.8 -17.6h-17.6z"/>
<path d="M1182.7 425.6l8.8 -17.6h-17.6z"/>
<path d="M1120.7 436.8l8.8 -17.6h-17.6z"/>
<path d="M1038.5 434.2l8.8 -17.6h-17.6z"/>
<path d="M1011.1 502.0l8.8 -17.6h-17.6z"/>
<path d="M1056.7 461.8l8.8 -17.6h-17.6z"/>
<path d="M1053.3 506.0l8.8 -17.6h-17.6z"/>
<path d="M1087.1 499.2l8.8 -17.6h-17.6z"/>
<path d="M1123.0 507.0l8.8 -17.6h-17.6z"/>
<path d="M1097.0 529.1l8.8 -17.6h-17.6z"/>
<path d="M1069.6 553.8l8.8 -17.6h-17.6z"/>
<path d="M1097.0 583.0l8.8 -17.6h-17.6z"/>
<path d="M1039.9 617.4l8.8 -17.6h-17.6z"/>
</g>
<g fill="#2ca02c" fill-opacity="0.3" stroke="#2ca02c" stroke-opacity="0.3" stroke-width="1.7">
<path d="M577.3 23.4h17.6v17.6h-17.6z"/>
<path d="M603.0 20.8h17.6v17.6h-17.6z"/>
<path d="M637.4 17.1h17.6v17.6h-17.6z"/>
<path d="M624.1 37.9h17.6v17.6h-17.6z"/>
<path d="M646.3 43.1h17.6v17.6h-17.6z"/>
<path d="M660.8 55.4h17.6v17.6h-17.6z"/>
<path d="M675.2 54.2h17.6v17.6h-17.6z"/>
<path d="M681.6 52.7h17.6v17.6h-17.6z"/>
<path d="M660.4 60.9h17.6v17.6h-17.6z"/>
<path d="M659.7 67.3h17.6v17.6h-17.6z"/>
<path d="M610.7 118.3h17.6v17.6h-17.6z"/>
<path d="M702.7 92.1h17.6v17.6h-17.6z"/>
<path d="M704.2 85.4h17.6v17.6h-17.6z"/>
<path d="M648.5 201.8h17.6v17.6h-17.6z"/>
<path d="M641.9 207.0h17.6v17.6h-17.6z"/>
<path d="M709.4 78.0h17.6v17.6h-17.6z"/>
<path d="M726.4 119.5h17.6v17.6h-17.6z"/>
<path d="M745.0 115.0h17.6v17.6h-17.6z"/>
<path d="M749.4 113.6h17.6v17.6h-17.6z"/>
<path d="M742.7 129.9h17.6v17.6h-17.6z"/>
<path d="M737.5 145.5h17.6v17.6h-17.6z"/>
<path d="M745.0 145.5h17.6v17.6h-17.6z"/>
<path d="M769.4 175.9h17.6v17.6h-17.6z"/>
<path d="M823.6 155.8h17.6v17.6h-17.6z"/>
<path d="M804.3 167.7h17.6v17.6h-17.6z"/>
<path d="M824.3 175.9h17.6v17.6h-17.6z"/>
<path d="M803.6 194.4h17.6v17.6h-17.6z"/>
<path d="M813.9 198.1h17.6v17.6h-17.6z"/>
<path d="M834.0 201.1h17.6v17.6h-17.6z"/>
<path d="M863.6 205.5h17.6v17.6h-17.6z"/>
<path d="M831.7 208.5h17.6v17.6h-17.6z"/>
<path d="M807.3 229.5h17.6v17.6h-17.6z"/>
<path d="M842.1 231.0h17.6v17.6h-17.6z"/>
<path d="M851.0 226.6h17.6v17.6h-17.6z"/>
<path d="M868.8 225.1h17.6v17.6h-17.6z"/>
<path d="M877.7 231.0h17.6v17.6h-17.6z"/>
<path d="M886.6 241.4h17.6v17.6h-17.6z"/>
<path d="M851.0 238.4h17.6v17.6h-17.6z"/>
<path d="M851.0 251.8h17.6v17.6h-17.6z"/>
<path d="M864.4 250.3h17.6v17.6h-17.6z"/>
<path d="M886.6 257.7h17.6v17.6h-17.6z"/>
<path d="M879.2 272.5h17.6v17.6h-17.6z"/>
<path d="M876.3 282.9h17.6v17.6h-17.6z"/>
<path d="M903.0 287.4h17.6v17.6h-17.6z"/>
<path d="M914.8 305.2h17.6v17.6h-17.6z"/>
<path d="M923.7 299.2h17.6v17.6h-17.6z"/>
<path d="M926.7 317.0h17.6v17.6h-17.6z"/>
<path d="M932.6 325.9h17.6v17.6h-17.6z"/>
<path d="M941.5 328.9h17.6v17.6h-17.6z"/>
<path d="M953.4 331.9h17.6v17.6h-17.6z"/>
<path d="M966.7 331.9h17.6v17.6h-17.6z"/>
<path d="M923.7 331.9h17.6v17.6h-17.6z"/>
<path d="M809.5 342.3h17.6v17.6h-17.6z"/>
<path d="M905.9 348.2h17.6v17.6h-17.6z"/>
<path d="M968.2 343.7h17.6v17.6h-17.6z"/>
<path d="M969.7 361.6h17.6v17.6h-17.6z"/>
<path d="M723.5 260.7h17.6v17.6h-17.6z"/>
<path d="M977.1 342.3h17.6v17.6h-17.6z"/>
<path d="M980.1 351.2h17.6v17.6h-17.6z"/>
<path d="M987.5 339.3h17.6v17.6h-17.6z"/>
<path d="M978.6 360.1h17.6v17.6h-17.6z"/>
<path d="M992.0 361.6h17.6v17.6h-17.6z"/>
<path d="M1008.3 343.7h17.6v17.6h-17.6z"/>
<path d="M1020.2 343.7h17.6v17.6h-17.6z"/>
<path d="M1033.5 342.3h17.6v17.6h-17.6z"/>
<path d="M1063.2 364.5h17.6v17.6h-17.6z"/>
<path d="M1081.0 367.5h17.6v17.6h-17.6z"/>
<path d="M1005.3 383.8h17.6v17.6h-17.6z"/>
<path d="M1083.9 397.2h17.6v17.6h-17.6z"/>
<path d="M1089.9 406.1h17.6v17.6h-17.6z"/>
<path d="M1075.0 403.1h17.6v17.6h-17.6z"/>
<path d="M1066.1 406.1h17.6v17.6h-17.6z"/>
<path d="M1008.3 370.5h17.6v17.6h-17.6z"/>
<path d="M997.9 376.4h17.6v17.6h-17.6z"/>
<path d="M1078.0 437.5h17.6v17.6h-17.6z"/>
<path d="M1085.4 444.9h17.6v17.6h-17.6z"/>
<path d="M1094.3 452.3h17.6v17.6h-17.6z"/>
<path d="M1103.2 459.7h17.6v17.6h-17.6z"/>
<path d="M1112.1 430.0h17.6v17.6h-17.6z"/>
<path d="M1141.8 428.6h17.6v17.6h-17.6z"/>
<path d="M1140.3 437.5h17.6v17.6h-17.6z"/>
<path d="M1146.3 482.0h17.6v17.6h-17.6z"/>
<path d="M1149.2 489.4h17.6v17.6h-17.6z"/>
<path d="M1155.2 459.7h17.6v17.6h-17.6z"/>
<path d="M1171.5 511.6h17.6v17.6h-17.6z"/>
<path d="M1177.4 519.0h17.6v17.6h-17.6z"/>
<path d="M1184.8 527.9h17.6v17.6h-17.6z"/>
<path d="M1193.7 519.0h17.6v17.6h-17.6z"/>
<path d="M1171.5 522.0h17.6v17.6h-17.6z"/>
<path d="M1202.6 533.9h17.6v17.6h-17.6z"/>
<path d="M1214.5 542.8h17.6v17.6h-17.6z"/>
<path d="M1229.3 548.7h17.6v17.6h-17.6z"/>
<path d="M1223.4 530.9h17.6v17.6h-17.6z"/>
<path d="M1236.7 522.0h17.6v17.6h-17.6z"/>
<path d="M1193.7 545.7h17.6v17.6h-17.6z"/>
<path d="M1235.3 563.6h17.6v17.6h-17.6z"/>
<path d="M1167.0 560.6h17.6v17.6h-17.6z"/>
<path d="M1230.8 585.8h17.6v17.6h-17.6z"/>
<path d="M1183.3 563.6h17.6v17.6h-17.6z"/>
<path d="M1220.4 519.0h17.6v17.6h-17.6z"/>
<path d="M1259.0 507.9h17.6v17.6h-17.6z"/>
<path d="M1300.1 529.4h17.6v17.6h-17.6z"/>
<path d="M1263.5 548.7h17.6v17.6h-17.6z"/>
<path d="M1307.2 565.0h17.6v17.6h-17.6z"/>
<path d="M1330.5 575.4h17.6v17.6h-17.6z"/>
<path d="M1361.4 599.2h17.6v17.6h-17.6z"/>
<path d="M1368.8 602.1h17.6v17.6h-17.6z"/>
<path d="M1275.3 603.6h17.6v17.6h-17.6z"/>
<path d="M1278.3 608.1h17.6v17.6h-17.6z"/>
<path d="M1345.0 611.0h17.6v17.6h-17.6z"/>
<path d="M1377.7 612.5h17.6v17.6h-17.6z"/>
<path d="M1293.1 615.5h17.6v17.6h-17.6z"/>
<path d="M1266.4 556.1h17.6v17.6h-17.6z"/>
<path d="M1333.2 612.5h17.6v17.6h-17.6z"/>
<path d="M1241.2 579.9h17.6v17.6h-17.6z"/>
<path d="M1276.8 624.6h17.6v17.6h-17.6z"/>
<path d="M1290.2 627.6h17.6v17.6h-17.6z"/>
<path d="M1312.4 632.0h17.6v17.6h-17.6z"/>
<path d="M1324.3 639.5h17.6v17.6h-17.6z"/>
<path d="M1336.1 635.0h17.6v17.6h-17.6z"/>
<path d="M1351.0 627.6h17.6v17.6h-17.6z"/>
<path d="M1364.3 621.7h17.6v17.6h-17.6z"/>
<path d="M1377.7 624.6h17.6v17.6h-17.6z"/>
<path d="M1385.1 633.5h17.6v17.6h-17.6z"/>
<path d="M1321.3 648.4h17.6v17.6h-17.6z"/>
<path d="M1312.4 657.3h17.6v17.6h-17.6z"/>
<path d="M1345.0 657.3h17.6v17.6h-17.6z"/>
<path d="M1353.9 651.3h17.6v17.6h-17.6z"/>
<path d="M1364.3 658.7h17.6v17.6h-17.6z"/>
<path d="M1373.2 646.9h17.6v17.6h-17.6z"/>
<path d="M1386.6 642.4h17.6v17.6h-17.6z"/>
<path d="M1348.0 667.6h17.6v17.6h-17.6z"/>
<path d="M1358.4 672.1h17.6v17.6h-17.6z"/>
<path d="M1368.8 666.2h17.6v17.6h-17.6z"/>
<path d="M1377.7 676.5h17.6v17.6h-17.6z"/>
<path d="M1391.0 660.2h17.6v17.6h-17.6z"/>
<path d="M1398.5 664.7h17.6v17.6h-17.6z"/>
<path d="M1408.8 669.1h17.6v17.6h-17.6z"/>
<path d="M1423.7 663.2h17.6v17.6h-17.6z"/>
<path d="M1441.5 667.6h17.6v17.6h-17.6z"/>
<path d="M1434.1 657.3h17.6v17.6h-17.6z"/>
<path d="M1374.7 686.9h17.6v17.6h-17.6z"/>
<path d="M1382.1 694.3h17.6v17.6h-17.6z"/>
<path d="M1392.5 688.4h17.6v17.6h-17.6z"/>
<path d="M1402.9 682.5h17.6v17.6h-17.6z"/>
<path d="M1414.8 681.0h17.6v17.6h-17.6z"/>
<path d="M1426.6 676.5h17.6v17.6h-17.6z"/>
<path d="M1435.5 684.0h17.6v17.6h-17.6z"/>
<path d="M1444.4 694.3h17.6v17.6h-17.6z"/>
<path d="M1462.2 698.8h17.6v17.6h-17.6z"/>
<path d="M1469.7 632.0h17.6v17.6h-17.6z"/>
<path d="M1328.0 704.7h17.6v17.6h-17.6z"/>
<path d="M1347.3 718.1h17.6v17.6h-17.6z"/>
<path d="M1378.4 709.2h17.6v17.6h-17.6z"/>
<path d="M1376.2 700.3h17.6v17.6h-17.6z"/>
<path d="M1401.4 712.1h17.6v17.6h-17.6z"/>
<path d="M1428.1 706.2h17.6v17.6h-17.6z"/>
<path d="M1440.0 712.1h17.6v17.6h-17.6z"/>
<path d="M1448.9 721.0h17.6v17.6h-17.6z"/>
<path d="M1431.1 724.0h17.6v17.6h-17.6z"/>
<path d="M1441.5 732.9h17.6v17.6h-17.6z"/>
<path d="M1451.9 738.8h17.6v17.6h-17.6z"/>
<path d="M1460.8 729.9h17.6v17.6h-17.6z"/>
<path d="M1484.5 722.5h17.6v17.6h-17.6z"/>
<path d="M1359.1 732.9h17.6v17.6h-17.6z"/>
<path d="M1401.4 746.3h17.6v17.6h-17.6z"/>
<path d="M1419.2 746.3h17.6v17.6h-17.6z"/>
<path d="M1426.6 755.2h17.6v17.6h-17.6z"/>
<path d="M1443.0 759.6h17.6v17.6h-17.6z"/>
<path d="M1453.3 759.6h17.6v17.6h-17.6z"/>
<path d="M1468.2 746.3h17.6v17.6h-17.6z"/>
<path d="M1481.5 750.7h17.6v17.6h-17.6z"/>
<path d="M1496.4 755.2h17.6v17.6h-17.6z"/>
<path d="M1506.7 750.7h17.6v17.6h-17.6z"/>
<path d="M1469.7 765.6h17.6v17.6h-17.6z"/>
<path d="M1478.6 774.5h17.6v17.6h-17.6z"/>
<path d="M1490.4 773.0h17.6v17.6h-17.6z"/>
<path d="M1500.8 780.4h17.6v17.6h-17.6z"/>
<path d="M1508.2 773.0h17.6v17.6h-17.6z"/>
<path d="M1477.1 792.3h17.6v17.6h-17.6z"/>
<path d="M1486.0 801.2h17.6v17.6h-17.6z"/>
<path d="M1497.8 804.1h17.6v17.6h-17.6z"/>
<path d="M1472.6 784.8h17.6v17.6h-17.6z"/>
<path d="M1347.3 807.8h17.6v17.6h-17.6z"/>
<path d="M1388.8 813.0h17.6v17.6h-17.6z"/>
<path d="M1481.5 808.6h17.6v17.6h-17.6z"/>
<path d="M1508.2 793.7h17.6v17.6h-17.6z"/>
<path d="M1434.1 703.2h17.6v17.6h-17.6z"/>
<path d="M1514.3 752.6h17.6v17.6h-17.6z"/>
<path d="M1521.2 758.7h17.6v17.6h-17.6z"/>
<path d="M1539.7 763.4h17.6v17.6h-17.6z"/>
<path d="M1568.9 768.3h17.6v17.6h-17.6z"/>
<path d="M1531.2 768.7h17.6v17.6h-17.6z"/>
<path d="M1534.3 797.2h17.6v17.6h-17.6z"/>
<path d="M1559.7 794.1h17.6v17.6h-17.6z"/>
<path d="M1592.3 792.6h17.6v17.6h-17.6z"/>
<path d="M1553.5 821.8h17.6v17.6h-17.6z"/>
<path d="M1514.3 786.4h17.6v17.6h-17.6z"/>
<path d="M1563.5 824.9h17.6v17.6h-17.6z"/>
<path d="M1260.9 842.9h17.6v17.6h-17.6z"/>
<path d="M1427.7 882.2h17.6v17.6h-17.6z"/>
<path d="M1500.5 843.7h17.6v17.6h-17.6z"/>
<path d="M1527.7 839.2h17.6v17.6h-17.6z"/>
<path d="M1588.1 843.8h17.6v17.6h-17.6z"/>
<path d="M1595.0 836.1h17.6v17.6h-17.6z"/>
<path d="M1602.0 832.3h17.6v17.6h-17.6z"/>
<path d="M1638.1 834.6h17.6v17.6h-17.6z"/>
<path d="M1676.6 838.4h17.6v17.6h-17.6z"/>
<path d="M1537.4 854.6h17.6v17.6h-17.6z"/>
<path d="M1533.5 863.8h17.6v17.6h-17.6z"/>
<path d="M1547.4 856.9h17.6v17.6h-17.6z"/>
<path d="M1552.0 856.1h17.6v17.6h-17.6z"/>
<path d="M1570.4 853.0h17.6v17.6h-17.6z"/>
<path d="M1575.8 856.1h17.6v17.6h-17.6z"/>
<path d="M1608.1 862.3h17.6v17.6h-17.6z"/>
<path d="M1616.6 871.5h17.6v17.6h-17.6z"/>
<path d="M1620.4 865.4h17.6v17.6h-17.6z"/>
<path d="M1638.9 866.1h17.6v17.6h-17.6z"/>
<path d="M1684.6 866.1h17.6v17.6h-17.6z"/>
<path d="M1717.4 875.8h17.6v17.6h-17.6z"/>
<path d="M1560.7 878.4h17.6v17.6h-17.6z"/>
<path d="M1640.0 886.9h17.6v17.6h-17.6z"/>
<path d="M1647.8 892.3h17.6v17.6h-17.6z"/>
<path d="M1682.7 901.5h17.6v17.6h-17.6z"/>
<path d="M1642.0 915.4h17.6v17.6h-17.6z"/>
<path d="M1643.5 914.6h17.6v17.6h-17.6z"/>
<path d="M1583.0 926.9h17.6v17.6h-17.6z"/>
<path d="M1739.7 928.4h17.6v17.6h-17.6z"/>
<path d="M1751.2 927.7h17.6v17.6h-17.6z"/>
<path d="M1624.7 954.1h17.6v17.6h-17.6z"/>
<path d="M1702.4 966.9h17.6v17.6h-17.6z"/>
<path d="M1702.4 976.1h17.6v17.6h-17.6z"/>
<path d="M1753.0 970.0h17.6v17.6h-17.6z"/>
<path d="M1762.0 963.8h17.6v17.6h-17.6z"/>
<path d="M1783.5 970.0h17.6v17.6h-17.6z"/>
<path d="M1553.8 993.8h17.6v17.6h-17.6z"/>
<path d="M1646.1 1006.4h17.6v17.6h-17.6z"/>
<path d="M1731.2 1211.9h17.6v17.6h-17.6z"/>
<path d="M1280.9 606.9h17.6v17.6h-17.6z"/>
<path d="M1373.3 609.0h17.6v17.6h-17.6z"/>
<path d="M1328.8 614.6h17.6v17.6h-17.6z"/>
<path d="M1354.5 628.4h17.6v17.6h-17.6z"/>
<path d="M1372.9 629.1h17.6v17.6h-17.6z"/>
<path d="M1317.0 657.9h17.6v17.6h-17.6z"/>
<path d="M1338.1 656.8h17.6v17.6h-17.6z"/>
<path d="M1369.3 654.8h17.6v17.6h-17.6z"/>
<path d="M1375.6 665.3h17.6v17.6h-17.6z"/>
<path d="M1377.8 670.5h17.6v17.6h-17.6z"/>
<path d="M1379.6 682.5h17.6v17.6h-17.6z"/>
<path d="M1432.9 689.3h17.6v17.6h-17.6z"/>
<path d="M1448.2 691.9h17.6v17.6h-17.6z"/>
<path d="M1475.4 630.5h17.6v17.6h-17.6z"/>
<path d="M1402.8 717.3h17.6v17.6h-17.6z"/>
<path d="M1451.5 715.6h17.6v17.6h-17.6z"/>
<path d="M1441.4 729.2h17.6v17.6h-17.6z"/>
<path d="M1461.7 736.4h17.6v17.6h-17.6z"/>
<path d="M1478.1 721.6h17.6v17.6h-17.6z"/>
<path d="M1360.8 739.3h17.6v17.6h-17.6z"/>
<path d="M1424.0 758.3h17.6v17.6h-17.6z"/>
<path d="M1456.8 758.6h17.6v17.6h-17.6z"/>
<path d="M1481.3 757.1h17.6v17.6h-17.6z"/>
<path d="M1498.8 760.6h17.6v17.6h-17.6z"/>
<path d="M1513.5 752.6h17.6v17.6h-17.6z"/>
<path d="M1474.2 766.6h17.6v17.6h-17.6z"/>
<path d="M1498.9 783.5h17.6v17.6h-17.6z"/>
<path d="M1505.8 789.8h17.6v17.6h-17.6z"/>
<path d="M1427.8 705.4h17.6v17.6h-17.6z"/>
<path d="M1510.1 750.1h17.6v17.6h-17.6z"/>
<path d="M1543.9 762.3h17.6v17.6h-17.6z"/>
<path d="M1530.5 795.8h17.6v17.6h-17.6z"/>
<path d="M1563.6 795.0h17.6v17.6h-17.6z"/>
<path d="M1588.8 788.6h17.6v17.6h-17.6z"/>
<path d="M918.7 308.1h17.6v17.6h-17.6z"/>
<path d="M928.2 301.2h17.6v17.6h-17.6z"/>
<path d="M949.0 330.9h17.6v17.6h-17.6z"/>
<path d="M970.1 334.5h17.6v17.6h-17.6z"/>
<path d="M975.0 347.6h17.6v17.6h-17.6z"/>
<path d="M987.4 357.9h17.6v17.6h-17.6z"/>
<path d="M1016.4 344.4h17.6v17.6h-17.6z"/>
<path d="M1009.9 380.8h17.6v17.6h-17.6z"/>
<path d="M1062.1 403.1h17.6v17.6h-17.6z"/>
<path d="M1006.1 376.4h17.6v17.6h-17.6z"/>
<path d="M1003.4 378.0h17.6v17.6h-17.6z"/>
<path d="M1073.0 436.3h17.6v17.6h-17.6z"/>
<path d="M1089.6 444.8h17.6v17.6h-17.6z"/>
<path d="M1096.0 457.8h17.6v17.6h-17.6z"/>
<path d="M1099.5 464.5h17.6v17.6h-17.6z"/>
<path d="M1105.9 427.6h17.6v17.6h-17.6z"/>
<path d="M1145.8 430.2h17.6v17.6h-17.6z"/>
<path d="M1147.2 493.0h17.6v17.6h-17.6z"/>
<path d="M1169.3 505.4h17.6v17.6h-17.6z"/>
<path d="M1169.8 528.7h17.6v17.6h-17.6z"/>
<path d="M1219.8 540.8h17.6v17.6h-17.6z"/>
<path d="M1225.2 535.6h17.6v17.6h-17.6z"/>
<path d="M1231.7 526.7h17.6v17.6h-17.6z"/>
<path d="M1197.4 546.0h17.6v17.6h-17.6z"/>
<path d="M1221.4 514.4h17.6v17.6h-17.6z"/>
</g>
<g fill="#2ca02c" fill-opacity="0.3" stroke="#2ca02c" stroke-width="3.8" stroke-linejoin="round">
<path d="M956.4 412.0h17.6v17.6h-17.6z"/>
<path d="M1155.2 453.8h17.6v17.6h-17.6z"/>
</g>
<g fill="#d62728" fill-opacity="0.3" stroke="#d62728" stroke-opacity="0.3" stroke-width="1.7">
<path d="M638.0 21.6l7.5 12.4l-7.5 12.4l-7.5 -12.4z"/>
<path d="M647.7 20.9l7.5 12.4l-7.5 12.4l-7.5 -12.4z"/>
<path d="M635.8 32.8l7.5 12.4l-7.5 12.4l-7.5 -12.4z"/>
<path d="M654.4 39.5l7.5 12.4l-7.5 12.4l-7.5 -12.4z"/>
<path d="M662.5 123.0l7.5 12.4l-7.5 12.4l-7.5 -12.4z"/>
<path d="M710.0 61.7l7.5 12.4l-7.5 12.4l-7.5 -12.4z"/>
<path d="M721.6 89.1l7.5 12.4l-7.5 12.4l-7.5 -12.4z"/>
<path d="M734.9 122.5l7.5 12.4l-7.5 12.4l-7.5 -12.4z"/>
<path d="M780.2 104.7l7.5 12.4l-7.5 12.4l-7.5 -12.4z"/>
<path d="M776.3 141.1l7.5 12.4l-7.5 12.4l-7.5 -12.4z"/>
<path d="M756.7 148.5l7.5 12.4l-7.5 12.4l-7.5 -12.4z"/>
<path d="M817.3 152.2l7.5 12.4l-7.5 12.4l-7.5 -12.4z"/>
<path d="M804.2 173.0l7.5 12.4l-7.5 12.4l-7.5 -12.4z"/>
<path d="M808.7 171.5l7.5 12.4l-7.5 12.4l-7.5 -12.4z"/>
<path d="M813.8 174.5l7.5 12.4l-7.5 12.4l-7.5 -12.4z"/>
<path d="M822.0 166.3l7.5 12.4l-7.5 12.4l-7.5 -12.4z"/>
<path d="M818.3 185.6l7.5 12.4l-7.5 12.4l-7.5 -12.4z"/>
<path d="M812.4 193.0l7.5 12.4l-7.5 12.4l-7.5 -12.4z"/>
<path d="M864.0 198.2l7.5 12.4l-7.5 12.4l-7.5 -12.4z"/>
<path d="M882.4 196.0l7.5 12.4l-7.5 12.4l-7.5 -12.4z"/>
<path d="M850.9 204.9l7.5 12.4l-7.5 12.4l-7.5 -12.4z"/>
<path d="M868.7 206.3l7.5 12.4l-7.5 12.4l-7.5 -12.4z"/>
<path d="M807.9 206.3l7.5 12.4l-7.5 12.4l-7.5 -12.4z"/>
<path d="M807.2 217.0l7.5 12.4l-7.5 12.4l-7.5 -12.4z"/>
<path d="M867.3 214.0l7.5 12.4l-7.5 12.4l-7.5 -12.4z"/>
<path d="M910.3 236.3l7.5 12.4l-7.5 12.4l-7.5 -12.4z"/>
<path d="M933.3 234.0l7.5 12.4l-7.5 12.4l-7.5 -12.4z"/>
<path d="M843.5 246.6l7.5 12.4l-7.5 12.4l-7.5 -12.4z"/>
<path d="M910.3 243.7l7.5 12.4l-7.5 12.4l-7.5 -12.4z"/>
<path d="M932.5 246.6l7.5 12.4l-7.5 12.4l-7.5 -12.4z"/>
<path d="M942.9 249.6l7.5 12.4l-7.5 12.4l-7.5 -12.4z"/>
<path d="M923.6 264.4l7.5 12.4l-7.5 12.4l-7.5 -12.4z"/>
<path d="M941.4 276.3l7.5 12.4l-7.5 12.4l-7.5 -12.4z"/>
<path d="M954.8 288.2l7.5 12.4l-7.5 12.4l-7.5 -12.4z"/>
<path d="M942.9 306.0l7.5 12.4l-7.5 12.4l-7.5 -12.4z"/>
<path d="M968.1 298.6l7.5 12.4l-7.5 12.4l-7.5 -12.4z"/>
<path d="M977.0 228.8l7.5 12.4l-7.5 12.4l-7.5 -12.4z"/>
<path d="M942.9 320.8l7.5 12.4l-7.5 12.4l-7.5 -12.4z"/>
<path d="M977.0 328.2l7.5 12.4l-7.5 12.4l-7.5 -12.4z"/>
<path d="M1057.1 295.6l7.5 12.4l-7.5 12.4l-7.5 -12.4z"/>
<path d="M1014.1 329.7l7.5 12.4l-7.5 12.4l-7.5 -12.4z"/>
<path d="M1002.3 359.4l7.5 12.4l-7.5 12.4l-7.5 -12.4z"/>
<path d="M1037.9 343.1l7.5 12.4l-7.5 12.4l-7.5 -12.4z"/>
<path d="M1043.8 352.0l7.5 12.4l-7.5 12.4l-7.5 -12.4z"/>
<path d="M1049.7 359.4l7.5 12.4l-7.5 12.4l-7.5 -12.4z"/>
<path d="M1057.1 362.4l7.5 12.4l-7.5 12.4l-7.5 -12.4z"/>
<path d="M1031.9 350.5l7.5 12.4l-7.5 12.4l-7.5 -12.4z"/>
<path d="M1024.5 343.1l7.5 12.4l-7.5 12.4l-7.5 -12.4z"/>
<path d="M1072.0 377.2l7.5 12.4l-7.5 12.4l-7.5 -12.4z"/>
<path d="M1076.4 387.6l7.5 12.4l-7.5 12.4l-7.5 -12.4z"/>
<path d="M1119.5 387.6l7.5 12.4l-7.5 12.4l-7.5 -12.4z"/>
<path d="M1153.6 396.5l7.5 12.4l-7.5 12.4l-7.5 -12.4z"/>
<path d="M988.9 320.8l7.5 12.4l-7.5 12.4l-7.5 -12.4z"/>
<path d="M1003.7 310.4l7.5 12.4l-7.5 12.4l-7.5 -12.4z"/>
<path d="M994.8 301.5l7.5 12.4l-7.5 12.4l-7.5 -12.4z"/>
<path d="M1094.2 420.5l7.5 12.4l-7.5 12.4l-7.5 -12.4z"/>
<path d="M1107.6 414.5l7.5 12.4l-7.5 12.4l-7.5 -12.4z"/>
<path d="M1128.4 420.5l7.5 12.4l-7.5 12.4l-7.5 -12.4z"/>
<path d="M1138.7 413.0l7.5 12.4l-7.5 12.4l-7.5 -12.4z"/>
<path d="M1165.4 420.5l7.5 12.4l-7.5 12.4l-7.5 -12.4z"/>
<path d="M1171.4 416.0l7.5 12.4l-7.5 12.4l-7.5 -12.4z"/>
<path d="M1122.4 467.9l7.5 12.4l-7.5 12.4l-7.5 -12.4z"/>
<path d="M1129.8 460.5l7.5 12.4l-7.5 12.4l-7.5 -12.4z"/>
<path d="M1137.3 485.7l7.5 12.4l-7.5 12.4l-7.5 -12.4z"/>
<path d="M1143.2 494.6l7.5 12.4l-7.5 12.4l-7.5 -12.4z"/>
<path d="M1122.4 500.6l7.5 12.4l-7.5 12.4l-7.5 -12.4z"/>
<path d="M1178.8 460.5l7.5 12.4l-7.5 12.4l-7.5 -12.4z"/>
<path d="M1187.7 467.9l7.5 12.4l-7.5 12.4l-7.5 -12.4z"/>
<path d="M1195.1 456.1l7.5 12.4l-7.5 12.4l-7.5 -12.4z"/>
<path d="M1180.3 475.3l7.5 12.4l-7.5 12.4l-7.5 -12.4z"/>
<path d="M1172.9 494.6l7.5 12.4l-7.5 12.4l-7.5 -12.4z"/>
<path d="M1184.7 490.2l7.5 12.4l-7.5 12.4l-7.5 -12.4z"/>
<path d="M1192.1 500.6l7.5 12.4l-7.5 12.4l-7.5 -12.4z"/>
<path d="M1217.4 450.1l7.5 12.4l-7.5 12.4l-7.5 -12.4z"/>
<path d="M1241.1 497.6l7.5 12.4l-7.5 12.4l-7.5 -12.4z"/>
<path d="M1205.5 536.2l7.5 12.4l-7.5 12.4l-7.5 -12.4z"/>
<path d="M1220.3 527.3l7.5 12.4l-7.5 12.4l-7.5 -12.4z"/>
<path d="M1230.7 530.2l7.5 12.4l-7.5 12.4l-7.5 -12.4z"/>
<path d="M1205.5 545.1l7.5 12.4l-7.5 12.4l-7.5 -12.4z"/>
<path d="M1247.0 552.5l7.5 12.4l-7.5 12.4l-7.5 -12.4z"/>
<path d="M1164.0 598.5l7.5 12.4l-7.5 12.4l-7.5 -12.4z"/>
<path d="M1239.6 574.7l7.5 12.4l-7.5 12.4l-7.5 -12.4z"/>
<path d="M1177.3 497.6l7.5 12.4l-7.5 12.4l-7.5 -12.4z"/>
<path d="M1169.9 485.7l7.5 12.4l-7.5 12.4l-7.5 -12.4z"/>
<path d="M1290.8 484.2l7.5 12.4l-7.5 12.4l-7.5 -12.4z"/>
<path d="M1283.4 494.6l7.5 12.4l-7.5 12.4l-7.5 -12.4z"/>
<path d="M1258.9 496.9l7.5 12.4l-7.5 12.4l-7.5 -12.4z"/>
<path d="M1284.9 531.7l7.5 12.4l-7.5 12.4l-7.5 -12.4z"/>
<path d="M1269.3 515.4l7.5 12.4l-7.5 12.4l-7.5 -12.4z"/>
<path d="M1337.5 529.5l7.5 12.4l-7.5 12.4l-7.5 -12.4z"/>
<path d="M1332.8 550.3l7.5 12.4l-7.5 12.4l-7.5 -12.4z"/>
<path d="M1358.3 559.2l7.5 12.4l-7.5 12.4l-7.5 -12.4z"/>
<path d="M1382.8 536.2l7.5 12.4l-7.5 12.4l-7.5 -12.4z"/>
<path d="M1408.4 559.2l7.5 12.4l-7.5 12.4l-7.5 -12.4z"/>
<path d="M1416.9 557.7l7.5 12.4l-7.5 12.4l-7.5 -12.4z"/>
<path d="M1390.9 582.9l7.5 12.4l-7.5 12.4l-7.5 -12.4z"/>
<path d="M1349.4 589.6l7.5 12.4l-7.5 12.4l-7.5 -12.4z"/>
<path d="M1355.3 589.6l7.5 12.4l-7.5 12.4l-7.5 -12.4z"/>
<path d="M1410.2 600.0l7.5 12.4l-7.5 12.4l-7.5 -12.4z"/>
<path d="M1319.7 568.8l7.5 12.4l-7.5 12.4l-7.5 -12.4z"/>
<path d="M1299.0 559.9l7.5 12.4l-7.5 12.4l-7.5 -12.4z"/>
<path d="M1255.9 554.0l7.5 12.4l-7.5 12.4l-7.5 -12.4z"/>
<path d="M1264.8 559.9l7.5 12.4l-7.5 12.4l-7.5 -12.4z"/>
<path d="M1315.3 602.9l7.5 12.4l-7.5 12.4l-7.5 -12.4z"/>
<path d="M1362.7 605.9l7.5 12.4l-7.5 12.4l-7.5 -12.4z"/>
<path d="M1299.0 592.5l7.5 12.4l-7.5 12.4l-7.5 -12.4z"/>
<path d="M1474.0 617.8l7.5 12.4l-7.5 12.4l-7.5 -12.4z"/>
<path d="M1276.7 604.4l7.5 12.4l-7.5 12.4l-7.5 -12.4z"/>
<path d="M1263.4 602.9l7.5 12.4l-7.5 12.4l-7.5 -12.4z"/>
<path d="M1544.6 475.4l7.5 12.4l-7.5 12.4l-7.5 -12.4z"/>
<path d="M1575.4 578.5l7.5 12.4l-7.5 12.4l-7.5 -12.4z"/>
<path d="M1319.7 650.6l7.5 12.4l-7.5 12.4l-7.5 -12.4z"/>
<path d="M1340.5 658.1l7.5 12.4l-7.5 12.4l-7.5 -12.4z"/>
<path d="M1346.4 638.8l7.5 12.4l-7.5 12.4l-7.5 -12.4z"/>
<path d="M1352.4 643.2l7.5 12.4l-7.5 12.4l-7.5 -12.4z"/>
<path d="M1319.7 632.8l7.5 12.4l-7.5 12.4l-7.5 -12.4z"/>
<path d="M1330.1 622.5l7.5 12.4l-7.5 12.4l-7.5 -12.4z"/>
<path d="M1269.3 615.0l7.5 12.4l-7.5 12.4l-7.5 -12.4z"/>
<path d="M1362.7 616.5l7.5 12.4l-7.5 12.4l-7.5 -12.4z"/>
<path d="M1408.7 625.4l7.5 12.4l-7.5 12.4l-7.5 -12.4z"/>
<path d="M1407.3 638.8l7.5 12.4l-7.5 12.4l-7.5 -12.4z"/>
<path d="M1422.1 647.7l7.5 12.4l-7.5 12.4l-7.5 -12.4z"/>
<path d="M1432.5 632.8l7.5 12.4l-7.5 12.4l-7.5 -12.4z"/>
<path d="M1438.4 625.4l7.5 12.4l-7.5 12.4l-7.5 -12.4z"/>
<path d="M1445.8 634.3l7.5 12.4l-7.5 12.4l-7.5 -12.4z"/>
<path d="M1445.8 659.5l7.5 12.4l-7.5 12.4l-7.5 -12.4z"/>
<path d="M1468.1 626.9l7.5 12.4l-7.5 12.4l-7.5 -12.4z"/>
<path d="M1413.2 689.2l7.5 12.4l-7.5 12.4l-7.5 -12.4z"/>
<path d="M1442.9 689.2l7.5 12.4l-7.5 12.4l-7.5 -12.4z"/>
<path d="M1422.8 708.5l7.5 12.4l-7.5 12.4l-7.5 -12.4z"/>
<path d="M1436.9 714.4l7.5 12.4l-7.5 12.4l-7.5 -12.4z"/>
<path d="M1435.4 726.3l7.5 12.4l-7.5 12.4l-7.5 -12.4z"/>
<path d="M1456.2 717.4l7.5 12.4l-7.5 12.4l-7.5 -12.4z"/>
<path d="M1472.5 698.1l7.5 12.4l-7.5 12.4l-7.5 -12.4z"/>
<path d="M1493.3 717.4l7.5 12.4l-7.5 12.4l-7.5 -12.4z"/>
<path d="M1420.6 745.6l7.5 12.4l-7.5 12.4l-7.5 -12.4z"/>
<path d="M1402.8 754.5l7.5 12.4l-7.5 12.4l-7.5 -12.4z"/>
<path d="M1460.7 748.6l7.5 12.4l-7.5 12.4l-7.5 -12.4z"/>
<path d="M1477.0 751.5l7.5 12.4l-7.5 12.4l-7.5 -12.4z"/>
<path d="M1514.1 760.4l7.5 12.4l-7.5 12.4l-7.5 -12.4z"/>
<path d="M1496.3 781.2l7.5 12.4l-7.5 12.4l-7.5 -12.4z"/>
<path d="M1505.2 791.6l7.5 12.4l-7.5 12.4l-7.5 -12.4z"/>
<path d="M1411.7 799.0l7.5 12.4l-7.5 12.4l-7.5 -12.4z"/>
<path d="M1428.0 788.6l7.5 12.4l-7.5 12.4l-7.5 -12.4z"/>
<path d="M1373.1 696.6l7.5 12.4l-7.5 12.4l-7.5 -12.4z"/>
<path d="M1506.6 677.3l7.5 12.4l-7.5 12.4l-7.5 -12.4z"/>
<path d="M1517.0 701.1l7.5 12.4l-7.5 12.4l-7.5 -12.4z"/>
<path d="M1466.6 720.4l7.5 12.4l-7.5 12.4l-7.5 -12.4z"/>
<path d="M1478.5 730.8l7.5 12.4l-7.5 12.4l-7.5 -12.4z"/>
<path d="M1434.0 732.2l7.5 12.4l-7.5 12.4l-7.5 -12.4z"/>
<path d="M1405.8 664.0l7.5 12.4l-7.5 12.4l-7.5 -12.4z"/>
<path d="M1420.6 668.4l7.5 12.4l-7.5 12.4l-7.5 -12.4z"/>
<path d="M1343.5 711.5l7.5 12.4l-7.5 12.4l-7.5 -12.4z"/>
<path d="M1444.3 672.9l7.5 12.4l-7.5 12.4l-7.5 -12.4z"/>
<path d="M1558.5 653.9l7.5 12.4l-7.5 12.4l-7.5 -12.4z"/>
<path d="M1611.2 663.1l7.5 12.4l-7.5 12.4l-7.5 -12.4z"/>
<path d="M1587.2 683.1l7.5 12.4l-7.5 12.4l-7.5 -12.4z"/>
<path d="M1524.6 701.6l7.5 12.4l-7.5 12.4l-7.5 -12.4z"/>
<path d="M1631.1 701.6l7.5 12.4l-7.5 12.4l-7.5 -12.4z"/>
<path d="M1547.7 722.0l7.5 12.4l-7.5 12.4l-7.5 -12.4z"/>
<path d="M1592.3 724.6l7.5 12.4l-7.5 12.4l-7.5 -12.4z"/>
<path d="M1562.3 767.4l7.5 12.4l-7.5 12.4l-7.5 -12.4z"/>
<path d="M1657.7 775.9l7.5 12.4l-7.5 12.4l-7.5 -12.4z"/>
<path d="M1550.0 788.9l7.5 12.4l-7.5 12.4l-7.5 -12.4z"/>
<path d="M1621.1 803.1l7.5 12.4l-7.5 12.4l-7.5 -12.4z"/>
<path d="M1530.0 812.0l7.5 12.4l-7.5 12.4l-7.5 -12.4z"/>
<path d="M1521.5 787.4l7.5 12.4l-7.5 12.4l-7.5 -12.4z"/>
<path d="M1485.9 839.3l7.5 12.4l-7.5 12.4l-7.5 -12.4z"/>
<path d="M1530.0 818.6l7.5 12.4l-7.5 12.4l-7.5 -12.4z"/>
<path d="M1614.9 852.5l7.5 12.4l-7.5 12.4l-7.5 -12.4z"/>
<path d="M1586.6 894.3l7.5 12.4l-7.5 12.4l-7.5 -12.4z"/>
<path d="M1740.8 977.6l7.5 12.4l-7.5 12.4l-7.5 -12.4z"/>
<path d="M1305.4 593.1l7.5 12.4l-7.5 12.4l-7.5 -12.4z"/>
<path d="M1315.4 627.9l7.5 12.4l-7.5 12.4l-7.5 -12.4z"/>
<path d="M1409.0 619.9l7.5 12.4l-7.5 12.4l-7.5 -12.4z"/>
<path d="M1425.5 643.8l7.5 12.4l-7.5 12.4l-7.5 -12.4z"/>
<path d="M1438.2 729.5l7.5 12.4l-7.5 12.4l-7.5 -12.4z"/>
<path d="M1471.0 715.1l7.5 12.4l-7.5 12.4l-7.5 -12.4z"/>
<path d="M1528.8 696.0l7.5 12.4l-7.5 12.4l-7.5 -12.4z"/>
<path d="M1549.2 717.3l7.5 12.4l-7.5 12.4l-7.5 -12.4z"/>
<path d="M1548.3 794.9l7.5 12.4l-7.5 12.4l-7.5 -12.4z"/>
<path d="M1518.8 785.0l7.5 12.4l-7.5 12.4l-7.5 -12.4z"/>
<path d="M1007.5 331.2l7.5 12.4l-7.5 12.4l-7.5 -12.4z"/>
<path d="M1039.5 352.8l7.5 12.4l-7.5 12.4l-7.5 -12.4z"/>
<path d="M1032.9 354.9l7.5 12.4l-7.5 12.4l-7.5 -12.4z"/>
<path d="M1077.6 383.8l7.5 12.4l-7.5 12.4l-7.5 -12.4z"/>
<path d="M1160.1 396.6l7.5 12.4l-7.5 12.4l-7.5 -12.4z"/>
<path d="M990.4 327.6l7.5 12.4l-7.5 12.4l-7.5 -12.4z"/>
<path d="M1000.1 300.2l7.5 12.4l-7.5 12.4l-7.5 -12.4z"/>
<path d="M1113.1 412.4l7.5 12.4l-7.5 12.4l-7.5 -12.4z"/>
<path d="M1162.8 423.6l7.5 12.4l-7.5 12.4l-7.5 -12.4z"/>
<path d="M1175.6 417.8l7.5 12.4l-7.5 12.4l-7.5 -12.4z"/>
<path d="M1127.8 456.3l7.5 12.4l-7.5 12.4l-7.5 -12.4z"/>
<path d="M1139.4 481.0l7.5 12.4l-7.5 12.4l-7.5 -12.4z"/>
<path d="M1137.3 495.3l7.5 12.4l-7.5 12.4l-7.5 -12.4z"/>
<path d="M1126.0 500.0l7.5 12.4l-7.5 12.4l-7.5 -12.4z"/>
<path d="M1196.2 451.4l7.5 12.4l-7.5 12.4l-7.5 -12.4z"/>
<path d="M1176.8 495.8l7.5 12.4l-7.5 12.4l-7.5 -12.4z"/>
<path d="M1192.4 493.8l7.5 12.4l-7.5 12.4l-7.5 -12.4z"/>
<path d="M1237.8 501.8l7.5 12.4l-7.5 12.4l-7.5 -12.4z"/>
<path d="M1220.3 521.0l7.5 12.4l-7.5 12.4l-7.5 -12.4z"/>
<path d="M1209.1 543.8l7.5 12.4l-7.5 12.4l-7.5 -12.4z"/>
<path d="M1172.2 493.3l7.5 12.4l-7.5 12.4l-7.5 -12.4z"/>
<path d="M1174.7 483.3l7.5 12.4l-7.5 12.4l-7.5 -12.4z"/>
</g>
<g fill="#d62728" fill-opacity="0.3" stroke="#d62728" stroke-width="3.8" stroke-linejoin="round">
<path d="M1152.1 440.5l7.5 12.4l-7.5 12.4l-7.5 -12.4z"/>
<path d="M1328.6 425.6l7.5 12.4l-7.5 12.4l-7.5 -12.4z"/>
<path d="M1265.6 518.4l7.5 12.4l-7.5 12.4l-7.5 -12.4z"/>
<path d="M1452.5 534.7l7.5 12.4l-7.5 12.4l-7.5 -12.4z"/>
<path d="M1333.5 580.7l7.5 12.4l-7.5 12.4l-7.5 -12.4z"/>
<path d="M1400.6 597.0l7.5 12.4l-7.5 12.4l-7.5 -12.4z"/>
<path d="M1401.3 605.9l7.5 12.4l-7.5 12.4l-7.5 -12.4z"/>
<path d="M1387.7 663.3l7.5 12.4l-7.5 12.4l-7.5 -12.4z"/>
<path d="M1401.3 613.6l7.5 12.4l-7.5 12.4l-7.5 -12.4z"/>
</g>
<g fill="#9467bd" fill-opacity="0.3" stroke="#9467bd" stroke-opacity="0.3" stroke-width="1.7">
<path d="M1165.5 355.6L1169.9 360.0L1174.3 355.6L1178.7 360.0L1174.3 364.4L1178.7 368.8L1174.3 373.2L1169.9 368.8L1165.5 373.2L1161.1 368.8L1165.5 364.4L1161.1 360.0z"/>
<path d="M1192.9 787.8L1197.3 792.2L1201.7 787.8L1206.1 792.2L1201.7 796.6L1206.1 801.0L1201.7 805.4L1197.3 801.0L1192.9 805.4L1188.5 801.0L1192.9 796.6L1188.5 792.2z"/>
<path d="M1242.6 799.7L1247.0 804.1L1251.4 799.7L1255.8 804.1L1251.4 808.5L1255.8 812.9L1251.4 817.3L1247.0 812.9L1242.6 817.3L1238.2 812.9L1242.6 808.5L1238.2 804.1z"/>
<path d="M1250.1 799.7L1254.5 804.1L1258.9 799.7L1263.3 804.1L1258.9 808.5L1263.3 812.9L1258.9 817.3L1254.5 812.9L1250.1 817.3L1245.7 812.9L1250.1 808.5L1245.7 804.1z"/>
<path d="M1425.1 793.7L1429.5 798.1L1433.9 793.7L1438.3 798.1L1433.9 802.5L1438.3 806.9L1433.9 811.3L1429.5 806.9L1425.1 811.3L1420.7 806.9L1425.1 802.5L1420.7 798.1z"/>
<path d="M1235.2 831.4L1239.6 835.8L1244.0 831.4L1248.4 835.8L1244.0 840.2L1248.4 844.6L1244.0 849.0L1239.6 844.6L1235.2 849.0L1230.8 844.6L1235.2 840.2L1230.8 835.8z"/>
<path d="M1317.3 865.2L1321.7 869.6L1326.1 865.2L1330.5 869.6L1326.1 874.0L1330.5 878.4L1326.1 882.8L1321.7 878.4L1317.3 882.8L1312.9 878.4L1317.3 874.0L1312.9 869.6z"/>
<path d="M1260.0 887.4L1264.4 891.8L1268.8 887.4L1273.2 891.8L1268.8 896.2L1273.2 900.6L1268.8 905.0L1264.4 900.6L1260.0 905.0L1255.6 900.6L1260.0 896.2L1255.6 891.8z"/>
<path d="M1428.4 958.4L1432.8 962.8L1437.2 958.4L1441.6 962.8L1437.2 967.2L1441.6 971.6L1437.2 976.0L1432.8 971.6L1428.4 976.0L1424.0 971.6L1428.4 967.2L1424.0 962.8z"/>
</g>
<g fill="#9467bd" fill-opacity="0.3" stroke="#9467bd" stroke-width="3.8" stroke-linejoin="round">
<path d="M1012.7 383.8L1017.1 388.2L1021.5 383.8L1025.9 388.2L1021.5 392.6L1025.9 397.0L1021.5 401.4L1017.1 397.0L1012.7 401.4L1008.3 397.0L1012.7 392.6L1008.3 388.2z"/>
<path d="M1033.5 397.2L1037.9 401.6L1042.3 397.2L1046.7 401.6L1042.3 406.0L1046.7 410.4L1042.3 414.8L1037.9 410.4L1033.5 414.8L1029.1 410.4L1033.5 406.0L1029.1 401.6z"/>
<path d="M1037.9 404.6L1042.3 409.0L1046.7 404.6L1051.1 409.0L1046.7 413.4L1051.1 417.8L1046.7 422.2L1042.3 417.8L1037.9 422.2L1033.5 417.8L1037.9 413.4L1033.5 409.0z"/>
<path d="M1046.8 409.0L1051.2 413.4L1055.6 409.0L1060.0 413.4L1055.6 417.8L1060.0 422.2L1055.6 426.6L1051.2 422.2L1046.8 426.6L1042.4 422.2L1046.8 417.8L1042.4 413.4z"/>
<path d="M1131.4 395.7L1135.8 400.1L1140.2 395.7L1144.6 400.1L1140.2 404.5L1144.6 408.9L1140.2 413.3L1135.8 408.9L1131.4 413.3L1127.0 408.9L1131.4 404.5L1127.0 400.1z"/>
<path d="M1143.2 406.1L1147.6 410.5L1152.0 406.1L1156.4 410.5L1152.0 414.9L1156.4 419.3L1152.0 423.7L1147.6 419.3L1143.2 423.7L1138.8 419.3L1143.2 414.9L1138.8 410.5z"/>
<path d="M993.4 415.0L997.8 419.4L1002.2 415.0L1006.6 419.4L1002.2 423.8L1006.6 428.2L1002.2 432.6L997.8 428.2L993.4 432.6L989.0 428.2L993.4 423.8L989.0 419.4z"/>
<path d="M972.6 496.8L977.0 501.2L981.4 496.8L985.8 501.2L981.4 505.6L985.8 510.0L981.4 514.4L977.0 510.0L972.6 514.4L968.2 510.0L972.6 505.6L968.2 501.2z"/>
<path d="M1000.1 437.5L1004.5 441.9L1008.9 437.5L1013.3 441.9L1008.9 446.3L1013.3 450.7L1008.9 455.1L1004.5 450.7L1000.1 455.1L995.7 450.7L1000.1 446.3L995.7 441.9z"/>
<path d="M989.7 452.3L994.1 456.7L998.5 452.3L1002.9 456.7L998.5 461.1L1002.9 465.5L998.5 469.9L994.1 465.5L989.7 469.9L985.3 465.5L989.7 461.1L985.3 456.7z"/>
<path d="M1009.0 461.9L1013.4 466.3L1017.8 461.9L1022.2 466.3L1017.8 470.7L1022.2 475.1L1017.8 479.5L1013.4 475.1L1009.0 479.5L1004.6 475.1L1009.0 470.7L1004.6 466.3z"/>
<path d="M980.1 493.8L984.5 498.2L988.9 493.8L993.3 498.2L988.9 502.6L993.3 507.0L988.9 511.4L984.5 507.0L980.1 511.4L975.7 507.0L980.1 502.6L975.7 498.2z"/>
<path d="M1030.5 433.0L1034.9 437.4L1039.3 433.0L1043.7 437.4L1039.3 441.8L1043.7 446.2L1039.3 450.6L1034.9 446.2L1030.5 450.6L1026.1 446.2L1030.5 441.8L1026.1 437.4z"/>
<path d="M1026.0 444.9L1030.4 449.3L1034.8 444.9L1039.2 449.3L1034.8 453.7L1039.2 458.1L1034.8 462.5L1030.4 458.1L1026.0 462.5L1021.6 458.1L1026.0 453.7L1021.6 449.3z"/>
<path d="M1034.9 455.3L1039.3 459.7L1043.7 455.3L1048.1 459.7L1043.7 464.1L1048.1 468.5L1043.7 472.9L1039.3 468.5L1034.9 472.9L1030.5 468.5L1034.9 464.1L1030.5 459.7z"/>
<path d="M1033.5 464.2L1037.9 468.6L1042.3 464.2L1046.7 468.6L1042.3 473.0L1046.7 477.4L1042.3 481.8L1037.9 477.4L1033.5 481.8L1029.1 477.4L1033.5 473.0L1029.1 468.6z"/>
<path d="M1040.9 468.6L1045.3 473.0L1049.7 468.6L1054.1 473.0L1049.7 477.4L1054.1 481.8L1049.7 486.2L1045.3 481.8L1040.9 486.2L1036.5 481.8L1040.9 477.4L1036.5 473.0z"/>
<path d="M1070.5 434.5L1074.9 438.9L1079.3 434.5L1083.7 438.9L1079.3 443.3L1083.7 447.7L1079.3 452.1L1074.9 447.7L1070.5 452.1L1066.1 447.7L1070.5 443.3L1066.1 438.9z"/>
<path d="M1065.4 453.8L1069.8 458.2L1074.2 453.8L1078.6 458.2L1074.2 462.6L1078.6 467.0L1074.2 471.4L1069.8 467.0L1065.4 471.4L1061.0 467.0L1065.4 462.6L1061.0 458.2z"/>
<path d="M1091.3 468.6L1095.7 473.0L1100.1 468.6L1104.5 473.0L1100.1 477.4L1104.5 481.8L1100.1 486.2L1095.7 481.8L1091.3 486.2L1086.9 481.8L1091.3 477.4L1086.9 473.0z"/>
<path d="M1060.2 479.0L1064.6 483.4L1069.0 479.0L1073.4 483.4L1069.0 487.8L1073.4 492.2L1069.0 496.6L1064.6 492.2L1060.2 496.6L1055.8 492.2L1060.2 487.8L1055.8 483.4z"/>
<path d="M1070.5 484.9L1074.9 489.3L1079.3 484.9L1083.7 489.3L1079.3 493.7L1083.7 498.1L1079.3 502.5L1074.9 498.1L1070.5 502.5L1066.1 498.1L1070.5 493.7L1066.1 489.3z"/>
<path d="M1078.0 476.0L1082.4 480.4L1086.8 476.0L1091.2 480.4L1086.8 484.8L1091.2 489.2L1086.8 493.6L1082.4 489.2L1078.0 493.6L1073.6 489.2L1078.0 484.8L1073.6 480.4z"/>
<path d="M1107.6 487.9L1112.0 492.3L1116.4 487.9L1120.8 492.3L1116.4 496.7L1120.8 501.1L1116.4 505.5L1112.0 501.1L1107.6 505.5L1103.2 501.1L1107.6 496.7L1103.2 492.3z"/>
<path d="M1086.1 495.3L1090.5 499.7L1094.9 495.3L1099.3 499.7L1094.9 504.1L1099.3 508.5L1094.9 512.9L1090.5 508.5L1086.1 512.9L1081.7 508.5L1086.1 504.1L1081.7 499.7z"/>
<path d="M1066.1 498.3L1070.5 502.7L1074.9 498.3L1079.3 502.7L1074.9 507.1L1079.3 511.5L1074.9 515.9L1070.5 511.5L1066.1 515.9L1061.7 511.5L1066.1 507.1L1061.7 502.7z"/>
<path d="M1024.6 502.7L1029.0 507.1L1033.4 502.7L1037.8 507.1L1033.4 511.5L1037.8 515.9L1033.4 520.3L1029.0 515.9L1024.6 520.3L1020.2 515.9L1024.6 511.5L1020.2 507.1z"/>
<path d="M1037.9 504.2L1042.3 508.6L1046.7 504.2L1051.1 508.6L1046.7 513.0L1051.1 517.4L1046.7 521.8L1042.3 517.4L1037.9 521.8L1033.5 517.4L1037.9 513.0L1033.5 508.6z"/>
<path d="M1007.5 516.1L1011.9 520.5L1016.3 516.1L1020.7 520.5L1016.3 524.9L1020.7 529.3L1016.3 533.7L1011.9 529.3L1007.5 533.7L1003.1 529.3L1007.5 524.9L1003.1 520.5z"/>
<path d="M1101.7 446.4L1106.1 450.8L1110.5 446.4L1114.9 450.8L1110.5 455.2L1114.9 459.6L1110.5 464.0L1106.1 459.6L1101.7 464.0L1097.3 459.6L1101.7 455.2L1097.3 450.8z"/>
<path d="M1118.0 437.5L1122.4 441.9L1126.8 437.5L1131.2 441.9L1126.8 446.3L1131.2 450.7L1126.8 455.1L1122.4 450.7L1118.0 455.1L1113.6 450.7L1118.0 446.3L1113.6 441.9z"/>
<path d="M1177.4 447.1L1181.8 451.5L1186.2 447.1L1190.6 451.5L1186.2 455.9L1190.6 460.3L1186.2 464.7L1181.8 460.3L1177.4 464.7L1173.0 460.3L1177.4 455.9L1173.0 451.5z"/>
<path d="M1201.1 453.0L1205.5 457.4L1209.9 453.0L1214.3 457.4L1209.9 461.8L1214.3 466.2L1209.9 470.6L1205.5 466.2L1201.1 470.6L1196.7 466.2L1201.1 461.8L1196.7 457.4z"/>
<path d="M1201.1 482.0L1205.5 486.4L1209.9 482.0L1214.3 486.4L1209.9 490.8L1214.3 495.2L1209.9 499.6L1205.5 495.2L1201.1 499.6L1196.7 495.2L1201.1 490.8L1196.7 486.4z"/>
<path d="M1073.5 517.6L1077.9 522.0L1082.3 517.6L1086.7 522.0L1082.3 526.4L1086.7 530.8L1082.3 535.2L1077.9 530.8L1073.5 535.2L1069.1 530.8L1073.5 526.4L1069.1 522.0z"/>
<path d="M1088.3 525.0L1092.7 529.4L1097.1 525.0L1101.5 529.4L1097.1 533.8L1101.5 538.2L1097.1 542.6L1092.7 538.2L1088.3 542.6L1083.9 538.2L1088.3 533.8L1083.9 529.4z"/>
<path d="M1109.1 523.5L1113.5 527.9L1117.9 523.5L1122.3 527.9L1117.9 532.3L1122.3 536.7L1117.9 541.1L1113.5 536.7L1109.1 541.1L1104.7 536.7L1109.1 532.3L1104.7 527.9z"/>
<path d="M1122.5 529.4L1126.9 533.8L1131.3 529.4L1135.7 533.8L1131.3 538.2L1135.7 542.6L1131.3 547.0L1126.9 542.6L1122.5 547.0L1118.1 542.6L1122.5 538.2L1118.1 533.8z"/>
<path d="M1134.3 516.1L1138.7 520.5L1143.1 516.1L1147.5 520.5L1143.1 524.9L1147.5 529.3L1143.1 533.7L1138.7 529.3L1134.3 533.7L1129.9 529.3L1134.3 524.9L1129.9 520.5z"/>
<path d="M1153.6 532.4L1158.0 536.8L1162.4 532.4L1166.8 536.8L1162.4 541.2L1166.8 545.6L1162.4 550.0L1158.0 545.6L1153.6 550.0L1149.2 545.6L1153.6 541.2L1149.2 536.8z"/>
<path d="M1168.5 541.3L1172.9 545.7L1177.3 541.3L1181.7 545.7L1177.3 550.1L1181.7 554.5L1177.3 558.9L1172.9 554.5L1168.5 558.9L1164.1 554.5L1168.5 550.1L1164.1 545.7z"/>
<path d="M1183.3 554.7L1187.7 559.1L1192.1 554.7L1196.5 559.1L1192.1 563.5L1196.5 567.9L1192.1 572.3L1187.7 567.9L1183.3 572.3L1178.9 567.9L1183.3 563.5L1178.9 559.1z"/>
<path d="M1149.2 554.7L1153.6 559.1L1158.0 554.7L1162.4 559.1L1158.0 563.5L1162.4 567.9L1158.0 572.3L1153.6 567.9L1149.2 572.3L1144.8 567.9L1149.2 563.5L1144.8 559.1z"/>
<path d="M1138.8 562.1L1143.2 566.5L1147.6 562.1L1152.0 566.5L1147.6 570.9L1152.0 575.3L1147.6 579.7L1143.2 575.3L1138.8 579.7L1134.4 575.3L1138.8 570.9L1134.4 566.5z"/>
<path d="M1124.0 565.0L1128.4 569.4L1132.8 565.0L1137.2 569.4L1132.8 573.8L1137.2 578.2L1132.8 582.6L1128.4 578.2L1124.0 582.6L1119.6 578.2L1124.0 573.8L1119.6 569.4z"/>
<path d="M1116.5 538.3L1120.9 542.7L1125.3 538.3L1129.7 542.7L1125.3 547.1L1129.7 551.5L1125.3 555.9L1120.9 551.5L1116.5 555.9L1112.1 551.5L1116.5 547.1L1112.1 542.7z"/>
<path d="M1078.0 545.7L1082.4 550.1L1086.8 545.7L1091.2 550.1L1086.8 554.5L1091.2 558.9L1086.8 563.3L1082.4 558.9L1078.0 563.3L1073.6 558.9L1078.0 554.5L1073.6 550.1z"/>
<path d="M1020.1 544.3L1024.5 548.7L1028.9 544.3L1033.3 548.7L1028.9 553.1L1033.3 557.5L1028.9 561.9L1024.5 557.5L1020.1 561.9L1015.7 557.5L1020.1 553.1L1015.7 548.7z"/>
<path d="M1039.4 545.7L1043.8 550.1L1048.2 545.7L1052.6 550.1L1048.2 554.5L1052.6 558.9L1048.2 563.3L1043.8 558.9L1039.4 563.3L1035.0 558.9L1039.4 554.5L1035.0 550.1z"/>
<path d="M1021.6 580.6L1026.0 585.0L1030.4 580.6L1034.8 585.0L1030.4 589.4L1034.8 593.8L1030.4 598.2L1026.0 593.8L1021.6 598.2L1017.2 593.8L1021.6 589.4L1017.2 585.0z"/>
<path d="M1046.1 587.3L1050.5 591.7L1054.9 587.3L1059.3 591.7L1054.9 596.1L1059.3 600.5L1054.9 604.9L1050.5 600.5L1046.1 604.9L1041.7 600.5L1046.1 596.1L1041.7 591.7z"/>
<path d="M1063.1 577.6L1067.5 582.0L1071.9 577.6L1076.3 582.0L1071.9 586.4L1076.3 590.8L1071.9 595.2L1067.5 590.8L1063.1 595.2L1058.7 590.8L1063.1 586.4L1058.7 582.0z"/>
<path d="M1079.4 581.4L1083.8 585.8L1088.2 581.4L1092.6 585.8L1088.2 590.2L1092.6 594.6L1088.2 599.0L1083.8 594.6L1079.4 599.0L1075.0 594.6L1079.4 590.2L1075.0 585.8z"/>
<path d="M1119.5 591.0L1123.9 595.4L1128.3 591.0L1132.7 595.4L1128.3 599.8L1132.7 604.2L1128.3 608.6L1123.9 604.2L1119.5 608.6L1115.1 604.2L1119.5 599.8L1115.1 595.4z"/>
<path d="M1152.1 593.2L1156.5 597.6L1160.9 593.2L1165.3 597.6L1160.9 602.0L1165.3 606.4L1160.9 610.8L1156.5 606.4L1152.1 610.8L1147.7 606.4L1152.1 602.0L1147.7 597.6z"/>
<path d="M1165.5 578.4L1169.9 582.8L1174.3 578.4L1178.7 582.8L1174.3 587.2L1178.7 591.6L1174.3 596.0L1169.9 591.6L1165.5 596.0L1161.1 591.6L1165.5 587.2L1161.1 582.8z"/>
<path d="M1180.3 579.9L1184.7 584.3L1189.1 579.9L1193.5 584.3L1189.1 588.7L1193.5 593.1L1189.1 597.5L1184.7 593.1L1180.3 597.5L1175.9 593.1L1180.3 588.7L1175.9 584.3z"/>
<path d="M1204.1 594.7L1208.5 599.1L1212.9 594.7L1217.3 599.1L1212.9 603.5L1217.3 607.9L1212.9 612.3L1208.5 607.9L1204.1 612.3L1199.7 607.9L1204.1 603.5L1199.7 599.1z"/>
<path d="M1089.8 614.0L1094.2 618.4L1098.6 614.0L1103.0 618.4L1098.6 622.8L1103.0 627.2L1098.6 631.6L1094.2 627.2L1089.8 631.6L1085.4 627.2L1089.8 622.8L1085.4 618.4z"/>
<path d="M1135.8 612.5L1140.2 616.9L1144.6 612.5L1149.0 616.9L1144.6 621.3L1149.0 625.7L1144.6 630.1L1140.2 625.7L1135.8 630.1L1131.4 625.7L1135.8 621.3L1131.4 616.9z"/>
<path d="M1190.7 612.5L1195.1 616.9L1199.5 612.5L1203.9 616.9L1199.5 621.3L1203.9 625.7L1199.5 630.1L1195.1 625.7L1190.7 630.1L1186.3 625.7L1190.7 621.3L1186.3 616.9z"/>
<path d="M1313.1 581.4L1317.5 585.8L1321.9 581.4L1326.3 585.8L1321.9 590.2L1326.3 594.6L1321.9 599.0L1317.5 594.6L1313.1 599.0L1308.7 594.6L1313.1 590.2L1308.7 585.8z"/>
<path d="M1047.6 628.3L1052.0 632.7L1056.4 628.3L1060.8 632.7L1056.4 637.1L1060.8 641.5L1056.4 645.9L1052.0 641.5L1047.6 645.9L1043.2 641.5L1047.6 637.1L1043.2 632.7z"/>
<path d="M1131.4 628.3L1135.8 632.7L1140.2 628.3L1144.6 632.7L1140.2 637.1L1144.6 641.5L1140.2 645.9L1135.8 641.5L1131.4 645.9L1127.0 641.5L1131.4 637.1L1127.0 632.7z"/>
<path d="M1134.3 620.2L1138.7 624.6L1143.1 620.2L1147.5 624.6L1143.1 629.0L1147.5 633.4L1143.1 637.8L1138.7 633.4L1134.3 637.8L1129.9 633.4L1134.3 629.0L1129.9 624.6z"/>
<path d="M1164.0 623.1L1168.4 627.5L1172.8 623.1L1177.2 627.5L1172.8 631.9L1177.2 636.3L1172.8 640.7L1168.4 636.3L1164.0 640.7L1159.6 636.3L1164.0 631.9L1159.6 627.5z"/>
<path d="M1181.8 624.6L1186.2 629.0L1190.6 624.6L1195.0 629.0L1190.6 633.4L1195.0 637.8L1190.6 642.2L1186.2 637.8L1181.8 642.2L1177.4 637.8L1181.8 633.4L1177.4 629.0z"/>
<path d="M1081.7 652.1L1086.1 656.5L1090.5 652.1L1094.9 656.5L1090.5 660.9L1094.9 665.3L1090.5 669.7L1086.1 665.3L1081.7 669.7L1077.3 665.3L1081.7 660.9L1077.3 656.5z"/>
<path d="M1101.0 670.6L1105.4 675.0L1109.8 670.6L1114.2 675.0L1109.8 679.4L1114.2 683.8L1109.8 688.2L1105.4 683.8L1101.0 688.2L1096.6 683.8L1101.0 679.4L1096.6 675.0z"/>
<path d="M1128.4 684.0L1132.8 688.4L1137.2 684.0L1141.6 688.4L1137.2 692.8L1141.6 697.2L1137.2 701.6L1132.8 697.2L1128.4 701.6L1124.0 697.2L1128.4 692.8L1124.0 688.4z"/>
<path d="M1164.0 657.3L1168.4 661.7L1172.8 657.3L1177.2 661.7L1172.8 666.1L1177.2 670.5L1172.8 674.9L1168.4 670.5L1164.0 674.9L1159.6 670.5L1164.0 666.1L1159.6 661.7z"/>
<path d="M1178.1 650.6L1182.5 655.0L1186.9 650.6L1191.3 655.0L1186.9 659.4L1191.3 663.8L1186.9 668.2L1182.5 663.8L1178.1 668.2L1173.7 663.8L1178.1 659.4L1173.7 655.0z"/>
<path d="M1091.3 721.8L1095.7 726.2L1100.1 721.8L1104.5 726.2L1100.1 730.6L1104.5 735.0L1100.1 739.4L1095.7 735.0L1091.3 739.4L1086.9 735.0L1091.3 730.6L1086.9 726.2z"/>
<path d="M1132.1 745.5L1136.5 749.9L1140.9 745.5L1145.3 749.9L1140.9 754.3L1145.3 758.7L1140.9 763.1L1136.5 758.7L1132.1 763.1L1127.7 758.7L1132.1 754.3L1127.7 749.9z"/>
<path d="M1152.1 742.6L1156.5 747.0L1160.9 742.6L1165.3 747.0L1160.9 751.4L1165.3 755.8L1160.9 760.2L1156.5 755.8L1152.1 760.2L1147.7 755.8L1152.1 751.4L1147.7 747.0z"/>
<path d="M1145.5 760.4L1149.9 764.8L1154.3 760.4L1158.7 764.8L1154.3 769.2L1158.7 773.6L1154.3 778.0L1149.9 773.6L1145.5 778.0L1141.1 773.6L1145.5 769.2L1141.1 764.8z"/>
<path d="M1187.0 712.1L1191.4 716.5L1195.8 712.1L1200.2 716.5L1195.8 720.9L1200.2 725.3L1195.8 729.7L1191.4 725.3L1187.0 729.7L1182.6 725.3L1187.0 720.9L1182.6 716.5z"/>
<path d="M1217.4 727.7L1221.8 732.1L1226.2 727.7L1230.6 732.1L1226.2 736.5L1230.6 740.9L1226.2 745.3L1221.8 740.9L1217.4 745.3L1213.0 740.9L1217.4 736.5L1213.0 732.1z"/>
<path d="M1197.4 756.7L1201.8 761.1L1206.2 756.7L1210.6 761.1L1206.2 765.5L1210.6 769.9L1206.2 774.3L1201.8 769.9L1197.4 774.3L1193.0 769.9L1197.4 765.5L1193.0 761.1z"/>
<path d="M1224.1 773.0L1228.5 777.4L1232.9 773.0L1237.3 777.4L1232.9 781.8L1237.3 786.2L1232.9 790.6L1228.5 786.2L1224.1 790.6L1219.7 786.2L1224.1 781.8L1219.7 777.4z"/>
<path d="M1213.7 679.5L1218.1 683.9L1222.5 679.5L1226.9 683.9L1222.5 688.3L1226.9 692.7L1222.5 697.1L1218.1 692.7L1213.7 697.1L1209.3 692.7L1213.7 688.3L1209.3 683.9z"/>
<path d="M1239.7 691.4L1244.1 695.8L1248.5 691.4L1252.9 695.8L1248.5 700.2L1252.9 704.6L1248.5 709.0L1244.1 704.6L1239.7 709.0L1235.3 704.6L1239.7 700.2L1235.3 695.8z"/>
<path d="M1241.1 636.5L1245.5 640.9L1249.9 636.5L1254.3 640.9L1249.9 645.3L1254.3 649.7L1249.9 654.1L1245.5 649.7L1241.1 654.1L1236.7 649.7L1241.1 645.3L1236.7 640.9z"/>
<path d="M1204.1 618.7L1208.5 623.1L1212.9 618.7L1217.3 623.1L1212.9 627.5L1217.3 631.9L1212.9 636.3L1208.5 631.9L1204.1 636.3L1199.7 631.9L1204.1 627.5L1199.7 623.1z"/>
<path d="M1242.6 746.3L1247.0 750.7L1251.4 746.3L1255.8 750.7L1251.4 755.1L1255.8 759.5L1251.4 763.9L1247.0 759.5L1242.6 763.9L1238.2 759.5L1242.6 755.1L1238.2 750.7z"/>
<path d="M1300.5 630.6L1304.9 635.0L1309.3 630.6L1313.7 635.0L1309.3 639.4L1313.7 643.8L1309.3 648.2L1304.9 643.8L1300.5 648.2L1296.1 643.8L1300.5 639.4L1296.1 635.0z"/>
<path d="M1284.9 644.6L1289.3 649.0L1293.7 644.6L1298.1 649.0L1293.7 653.4L1298.1 657.8L1293.7 662.2L1289.3 657.8L1284.9 662.2L1280.5 657.8L1284.9 653.4L1280.5 649.0z"/>
<path d="M1254.5 665.4L1258.9 669.8L1263.3 665.4L1267.7 669.8L1263.3 674.2L1267.7 678.6L1263.3 683.0L1258.9 678.6L1254.5 683.0L1250.1 678.6L1254.5 674.2L1250.1 669.8z"/>
<path d="M1251.5 692.9L1255.9 697.3L1260.3 692.9L1264.7 697.3L1260.3 701.7L1264.7 706.1L1260.3 710.5L1255.9 706.1L1251.5 710.5L1247.1 706.1L1251.5 701.7L1247.1 697.3z"/>
<path d="M1273.8 695.8L1278.2 700.2L1282.6 695.8L1287.0 700.2L1282.6 704.6L1287.0 709.0L1282.6 713.4L1278.2 709.0L1273.8 713.4L1269.4 709.0L1273.8 704.6L1269.4 700.2z"/>
<path d="M1258.2 708.4L1262.6 712.8L1267.0 708.4L1271.4 712.8L1267.0 717.2L1271.4 721.6L1267.0 726.0L1262.6 721.6L1258.2 726.0L1253.8 721.6L1258.2 717.2L1253.8 712.8z"/>
<path d="M1316.8 752.2L1321.2 756.6L1325.6 752.2L1330.0 756.6L1325.6 761.0L1330.0 765.4L1325.6 769.8L1321.2 765.4L1316.8 769.8L1312.4 765.4L1316.8 761.0L1312.4 756.6z"/>
<path d="M1334.6 761.8L1339.0 766.2L1343.4 761.8L1347.8 766.2L1343.4 770.6L1347.8 775.0L1343.4 779.4L1339.0 775.0L1334.6 779.4L1330.2 775.0L1334.6 770.6L1330.2 766.2z"/>
<path d="M1296.8 780.4L1301.2 784.8L1305.6 780.4L1310.0 784.8L1305.6 789.2L1310.0 793.6L1305.6 798.0L1301.2 793.6L1296.8 798.0L1292.4 793.6L1296.8 789.2L1292.4 784.8z"/>
<path d="M1250.1 749.2L1254.5 753.6L1258.9 749.2L1263.3 753.6L1258.9 758.0L1263.3 762.4L1258.9 766.8L1254.5 762.4L1250.1 766.8L1245.7 762.4L1250.1 758.0L1245.7 753.6z"/>
</g>
<g fill="#e377c2" stroke="#e377c2" stroke-width="1.4" stroke-linejoin="bevel">
<path d="M1143.7 459.6L1156.0 459.6L1156.0 472.0L1168.4 472.0L1168.4 484.3L1156.0 484.3L1156.0 496.6L1143.7 496.6L1143.7 484.3L1131.4 484.3L1131.4 472.0L1143.7 472.0z"/>
<path d="M1209.7 500.1L1222.0 500.1L1222.0 512.5L1234.4 512.5L1234.4 524.8L1222.0 524.8L1222.0 537.1L1209.7 537.1L1209.7 524.8L1197.4 524.8L1197.4 512.5L1209.7 512.5z"/>
</g>
<g stroke="#ff8c00" fill="none" stroke-width="2.8" stroke-linejoin="miter">
<path d="M213.6 222.5l19.9 -19.9l19.9 19.9l-19.9 19.9z"/>
<path d="M659.2 222.5l19.9 -19.9l19.9 19.9l-19.9 19.9z"/>
<path d="M816.5 222.5l19.9 -19.9l19.9 19.9l-19.9 19.9z"/>
</g>
<g stroke="#000" stroke-width="7.283" fill="none">
<path d="M170.1 387.1H1795.8" stroke-dasharray="46.61 11.65 7.28 11.65"/>
<path d="M170.1 790.4H1795.8" stroke-dasharray="46.61 11.65 7.28 11.65"/>
<path d="M170.1 635.4H1795.8" stroke-dasharray="7.28 12.02"/>
<path d="M1196.9 -10.54V1236.5" stroke-dasharray="7.28 12.02"/>
</g>
<path d="M68.49 -387.84L1816.12 1000.49" stroke="#008000" stroke-width="7.4" fill="none"/>
<path d="M68.49 -263.21L1816.12 1125.12" stroke="#ff0000" stroke-width="7.4" fill="none" stroke-dasharray="26.95 11.66" stroke-dashoffset="21.02"/>
<path d="M68.49 -161.83L1816.12 1226.50" stroke="#0000ff" stroke-width="7.35" fill="none" stroke-dasharray="7.35 21.78" stroke-dashoffset="20.13"/>
<path d="M230.7 222.5H830" stroke="#ff8c00" stroke-width="7.25" fill="none"/>
<path d="M685 222.5l-25 -16.4v32.8z" fill="#ff8c00"/>
<path d="M845.3 222.5l-25 -16.4v32.8z" fill="#ff8c00"/>
<g fill="#8c564b" stroke="#8c564b" stroke-width="1.4" stroke-linejoin="bevel">
<path d="M1228.8 461.6L1232.9 474.4L1246.4 474.4L1235.5 482.3L1239.7 495.0L1228.8 487.1L1217.9 495.0L1222.1 482.3L1211.2 474.4L1224.6 474.4z"/>
<path d="M1297.5 543.5L1301.6 556.3L1315.1 556.3L1304.2 564.2L1308.3 576.9L1297.5 569.0L1286.6 576.9L1290.8 564.2L1279.9 556.3L1293.3 556.3z"/>
<path d="M1507.4 663.1L1511.5 675.9L1525.0 675.9L1514.1 683.8L1518.3 696.6L1507.4 688.7L1496.5 696.6L1500.7 683.8L1489.8 675.9L1503.2 675.9z"/>
</g>
<g fill="#7f7f7f" stroke="#7f7f7f" stroke-width="1.4" stroke-linejoin="bevel">
<path d="M1224.8 473.7L1240.8 483.0L1240.8 501.5L1224.8 510.7L1208.8 501.5L1208.8 483.0z"/>
<path d="M1221.1 557.1L1237.1 566.4L1237.1 584.9L1221.1 594.1L1205.0 584.9L1205.0 566.4z"/>
<path d="M1230.7 605.0L1246.7 614.3L1246.7 632.8L1230.7 642.0L1214.7 632.8L1214.7 614.3z"/>
<path d="M1272.3 573.1L1288.3 582.4L1288.3 600.9L1272.3 610.1L1256.2 600.9L1256.2 582.4z"/>
<path d="M1257.4 720.2L1273.4 729.5L1273.4 748.0L1257.4 757.2L1241.4 748.0L1241.4 729.5z"/>
</g>
</g>
<g stroke="#000" fill="none">
<path d="M373.3 1231.5v-15.8M373.3 20.8v15.8M576.5 1231.5v-15.8M576.5 20.8v15.8M779.7 1231.5v-15.8M779.7 20.8v15.8M983 1231.5v-15.8M983 20.8v15.8M1186.2 1231.5v-15.8M1186.2 20.8v15.8M1389.4 1231.5v-15.8M1389.4 20.8v15.8M1592.6 1231.5v-15.8M1592.6 20.8v15.8M170.1 1029.7h15.8M1795.8 1029.7h-15.8M170.1 827.9h15.8M1795.8 827.9h-15.8M170.1 626.1h15.8M1795.8 626.1h-15.8M170.1 424.3h15.8M1795.8 424.3h-15.8M170.1 222.5h15.8M1795.8 222.5h-15.8" stroke-width="5.6"/>
<rect x="170.1" y="20.8" width="1625.7" height="1210.8" stroke-width="7" stroke-linejoin="miter"/>
</g>
<g fill="#fff" fill-opacity="0.7">
<rect x="217.8" y="249.7" width="199.2" height="82" rx="10" ry="10"/>
<rect x="579.6" y="249.7" width="198.7" height="82" rx="10" ry="10"/>
<rect x="823.3" y="249.7" width="185.2" height="82" rx="10" ry="10"/>
</g>
<g fill="#000">
<text transform="translate(232.01 302.30) scale(1.0069 1.0000)" font-size="54.30px">0.1 Gyr</text>
<text transform="translate(593.07 302.30) scale(1.0047 1.0000)" font-size="54.30px">3.7 Gyr</text>
<text transform="translate(835.15 302.30) scale(0.9933 1.0000)" font-size="54.30px">10 Gyr</text>
</g>
<rect x="1076.6" y="39.8" width="701.2" height="172.1" rx="5.5" ry="5.5" fill="#fff" stroke="#d0d0d0" stroke-width="1.9"/>
<path d="M1127.2 53.9L1131.4 66.7L1144.8 66.7L1133.9 74.6L1138.1 87.4L1127.2 79.5L1116.3 87.4L1120.5 74.6L1109.6 66.7L1123.0 66.7z" fill="#8c564b" stroke="#8c564b" stroke-width="1.4" stroke-linejoin="bevel"/>
<path d="M1120.9 107.6L1133.3 107.6L1133.3 119.9L1145.6 119.9L1145.6 132.3L1133.3 132.3L1133.3 144.6L1120.9 144.6L1120.9 132.3L1108.6 132.3L1108.6 119.9L1120.9 119.9z" fill="#e377c2" stroke="#e377c2" stroke-width="1.4" stroke-linejoin="miter"/>
<path d="M1127.2 161.4L1143.2 170.7L1143.2 189.2L1127.2 198.4L1111.2 189.2L1111.2 170.7z" fill="#7f7f7f" stroke="#7f7f7f" stroke-width="1.4" stroke-linejoin="miter"/>
<g font-size="36.2px" fill="#000">
<text x="1191.8" y="81.5">Coma Spectroscopic (Gu+18)</text>
<text x="1191.8" y="135.8">Coma Spectroscopic (Ruiz-Lara+18)</text>
<text x="1191.8" y="189.7">Coma Spectrsocopic (Ferré-Mateu+18)</text>
</g>
<rect x="188.6" y="929.5" width="1225.1" height="282.8" rx="5.5" ry="5.5" fill="#fff" stroke="#d0d0d0" stroke-width="1.9"/>
<path d="M199 958.8H279.5" stroke="#008000" stroke-width="8" fill="none"/>
<path d="M202.9 1013.4H275.4" stroke="#ff0000" stroke-width="8" stroke-dasharray="27.5 11.8" fill="none"/>
<path d="M202.9 1069H275.4" stroke="#0000ff" stroke-width="7.6" stroke-dasharray="8 21.2" fill="none"/>
<circle cx="239.9" cy="1127.6" r="8.8" fill="#1f77b4" fill-opacity="0.3" stroke="#1f77b4" stroke-opacity="0.3" stroke-width="1.4"/>
<path d="M239.9 1173.0l8.8 17.6h-17.6z" fill="#ff7f0e" fill-opacity="0.3" stroke="#ff7f0e" stroke-opacity="0.3" stroke-width="1.4"/>
<path d="M708.5 952.6h17.6v17.6h-17.6z" fill="#2ca02c" fill-opacity="0.3" stroke="#2ca02c" stroke-opacity="0.3" stroke-width="1.4"/>
<path d="M717.3 1003.6l7.5 12.4l-7.5 12.4l-7.5 -12.4z" fill="#d62728" fill-opacity="0.3" stroke="#d62728" stroke-opacity="0.3" stroke-width="1.4"/>
<path d="M717.3 1078.7l8.8 -17.6h-17.6z" fill="#daa520" fill-opacity="0.3" stroke="#daa520" stroke-opacity="0.3" stroke-width="1.4"/>
<path d="M712.9 1114.9L717.3 1119.3L721.7 1114.9L726.1 1119.3L721.7 1123.7L726.1 1128.1L721.7 1132.5L717.3 1128.1L712.9 1132.5L708.5 1128.1L712.9 1123.7L708.5 1119.3z" fill="#9467bd" fill-opacity="0.3" stroke="#9467bd" stroke-opacity="0.3" stroke-width="1.4"/>
<g font-size="36.2px" fill="#000">
<text transform="translate(302.52 971.73) scale(1.0291 1.1142)" font-size="36.20px">(</text>
<text transform="translate(316.04 971.20) scale(0.9405 1.0000)" font-size="36.20px" font-style="italic">M</text>
<text transform="translate(349.10 979.65) scale(1.4766 1.5079)" font-size="36.20px">/</text>
<text transform="translate(366.18 971.20) scale(1.0518 1.0000)" font-size="36.20px" font-style="italic">L</text>
<text transform="translate(386.54 971.73) scale(0.9775 1.1142)" font-size="36.20px">)</text>
<text transform="translate(399.67 976.50) scale(1.1136 1.0000)" font-size="25.40px" font-style="italic">r</text>
<text transform="translate(419.28 973.45) scale(1.4495 0.9503)" font-size="36.20px">=</text>
<text transform="translate(455.09 971.20) scale(1.0502 1.0000)" font-size="36.20px">2.10</text>
<text transform="translate(302.52 1026.53) scale(1.0291 1.1142)" font-size="36.20px">(</text>
<text transform="translate(316.04 1026.00) scale(0.9405 1.0000)" font-size="36.20px" font-style="italic">M</text>
<text transform="translate(349.10 1034.45) scale(1.4766 1.5079)" font-size="36.20px">/</text>
<text transform="translate(366.18 1026.00) scale(1.0518 1.0000)" font-size="36.20px" font-style="italic">L</text>
<text transform="translate(386.54 1026.53) scale(0.9775 1.1142)" font-size="36.20px">)</text>
<text transform="translate(399.67 1031.30) scale(1.1136 1.0000)" font-size="25.40px" font-style="italic">r</text>
<text transform="translate(419.28 1028.25) scale(1.4495 0.9503)" font-size="36.20px">=</text>
<text transform="translate(453.28 1026.00) scale(1.0794 1.0000)" font-size="36.20px">1.03</text>
<text transform="translate(302.52 1081.93) scale(1.0291 1.1142)" font-size="36.20px">(</text>
<text transform="translate(316.04 1081.40) scale(0.9405 1.0000)" font-size="36.20px" font-style="italic">M</text>
<text transform="translate(349.10 1089.85) scale(1.4766 1.5079)" font-size="36.20px">/</text>
<text transform="translate(366.18 1081.40) scale(1.0518 1.0000)" font-size="36.20px" font-style="italic">L</text>
<text transform="translate(386.54 1081.93) scale(0.9775 1.1142)" font-size="36.20px">)</text>
<text transform="translate(399.67 1086.70) scale(1.1136 1.0000)" font-size="25.40px" font-style="italic">r</text>
<text transform="translate(419.28 1083.65) scale(1.4495 0.9503)" font-size="36.20px">=</text>
<text transform="translate(455.29 1081.40) scale(1.0408 1.0000)" font-size="36.20px">0.36</text>
<text x="304.2" y="1136.3">El Gordo (this work)</text>
<text x="304.2" y="1190.9">Coma (Yagi+16)</text>
<text x="782.8" y="971.2">Virgo (Ferrarese+20)</text>
<text x="782.8" y="1025.6">Fornax (Eigenthaler+18)</text>
<text x="782.8" y="1079.4">Other Nearby Clusters (Mancera Piña+18)</text>
<text x="782.8" y="1133">Isolated (Leisman+17)</text>
</g>
<g font-size="55.6px" fill="#000">
<text transform="translate(169.6 1286.9) scale(1 1.045)" text-anchor="middle">20</text>
<text transform="translate(372.8 1286.9) scale(1 1.045)" text-anchor="middle">21</text>
<text transform="translate(576 1286.9) scale(1 1.045)" text-anchor="middle">22</text>
<text transform="translate(779.2 1286.9) scale(1 1.045)" text-anchor="middle">23</text>
<text transform="translate(982.5 1286.9) scale(1 1.045)" text-anchor="middle">24</text>
<text transform="translate(1185.7 1286.9) scale(1 1.045)" text-anchor="middle">25</text>
<text transform="translate(1388.9 1286.9) scale(1 1.045)" text-anchor="middle">26</text>
<text transform="translate(1592.1 1286.9) scale(1 1.045)" text-anchor="middle">27</text>
<text transform="translate(1795.3 1286.9) scale(1 1.045)" text-anchor="middle">28</text>
<text transform="translate(159.3 1250.5) scale(1 1.045)" text-anchor="end">5.0</text>
<text transform="translate(159.3 1048.7) scale(1 1.045)" text-anchor="end">5.5</text>
<text transform="translate(159.3 846.9) scale(1 1.045)" text-anchor="end">6.0</text>
<text transform="translate(159.3 645.1) scale(1 1.045)" text-anchor="end">6.5</text>
<text transform="translate(159.3 443.3) scale(1 1.045)" text-anchor="end">7.0</text>
<text transform="translate(159.3 241.5) scale(1 1.045)" text-anchor="end">7.5</text>
<text transform="translate(159.3 39.8) scale(1 1.045)" text-anchor="end">8.0</text>
</g>
<g fill="#000">
<text transform="translate(428.72 1380.06) scale(1.3153 1.1989)" font-size="63.60px">&lt;</text>
<text transform="translate(493.00 1370.21) scale(1.2311 1.0326)" font-size="63.60px" font-style="italic">μ</text>
<text transform="translate(550.36 1380.06) scale(1.3018 1.1989)" font-size="63.60px">&gt;</text>
<text transform="translate(597.55 1379.76) scale(1.0833 0.9785)" font-size="44.50px" font-style="italic">e</text>
<text transform="translate(635.36 1374.20) scale(1.3018 0.9434)" font-size="63.60px">−</text>
<text transform="translate(685.60 1371.20) scale(0.9499 1.0000)" font-size="63.60px" font-style="italic">K</text>
<text transform="translate(738.81 1374.20) scale(1.3187 0.9434)" font-size="63.60px">−</text>
<text transform="translate(796.47 1371.20) scale(1.0193 1.0000)" font-size="63.60px">10</text>
<text transform="translate(867.34 1371.20) scale(0.9903 1.0000)" font-size="63.60px">log</text>
<text transform="translate(948.30 1386.74) scale(1.0745 1.0387)" font-size="44.50px">10</text>
<text transform="translate(998.18 1371.83) scale(0.9866 1.1059)" font-size="63.60px">(</text>
<text transform="translate(1021.97 1371.20) scale(0.8446 1.0000)" font-size="63.60px">1</text>
<text transform="translate(1060.54 1385.13) scale(1.4033 1.4356)" font-size="63.60px">+</text>
<text transform="translate(1119.89 1371.20) scale(0.9271 1.0000)" font-size="63.60px" font-style="italic">z</text>
<text transform="translate(1145.18 1371.83) scale(0.9555 1.1059)" font-size="63.60px">)</text>
<text transform="translate(1184.33 1371.20) scale(0.9975 1.0000)" font-size="63.60px">mag arcsec</text>
<text transform="translate(1469.48 1351.04) scale(1.3580 1.0787)" font-size="44.50px">−</text>
<text transform="translate(1503.75 1348.00) scale(1.1236 1.0623)" font-size="44.50px">2</text>
<g transform="translate(57.4 0) rotate(-90)">
<text transform="translate(-882.26 0.00) scale(0.9890 1.0000)" font-size="63.60px" stroke="#000" stroke-width="0.9">log</text>
<text transform="translate(-779.14 0.00) scale(1.1937 1.0154)" font-size="63.60px">Σ</text>
<text transform="translate(-742.13 10.69) scale(0.8842 0.9483)" font-size="44.50px">∗</text>
<text transform="translate(-712.70 14.46) scale(1.4408 1.4848)" font-size="63.60px">/</text>
<text transform="translate(-680.32 0.85) scale(0.9866 1.1041)" font-size="63.60px">(</text>
<text transform="translate(-660.54 0.00) scale(1.0154 1.0256)" font-size="63.60px" stroke="#000" stroke-width="0.9">M</text>
<text transform="translate(-605.61 13.00) scale(1.1146 1.1326)" font-size="44.50px">⊙</text>
<text transform="translate(-550.70 0.00) scale(1.0189 1.0000)" font-size="63.60px" stroke="#000" stroke-width="0.9">kpc</text>
<text transform="translate(-456.45 -19.77) scale(1.3725 1.0337)" font-size="44.50px">−</text>
<text transform="translate(-421.90 -23.10) scale(1.1966 1.0964)" font-size="44.50px">2</text>
<text transform="translate(-395.33 0.93) scale(0.9071 1.1059)" font-size="63.60px">)</text>
</g>
</g>
</svg>
</body>
</html>
